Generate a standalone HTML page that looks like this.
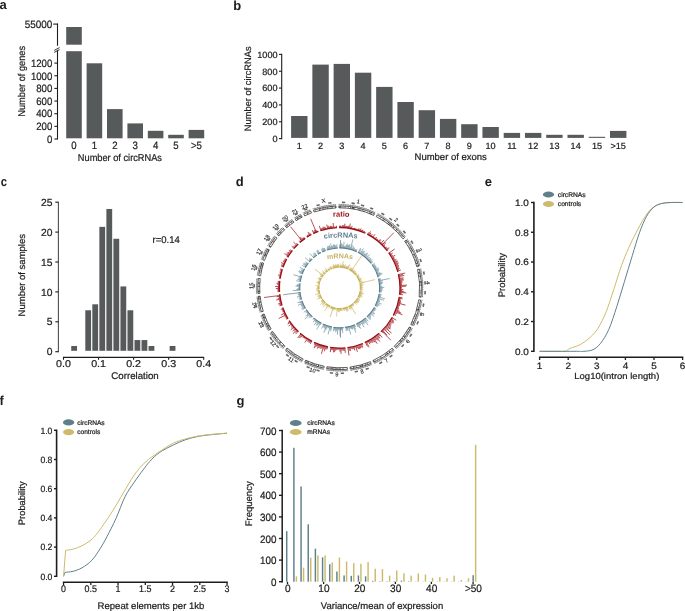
<!DOCTYPE html>
<html><head><meta charset="utf-8"><style>
html,body{margin:0;padding:0;background:#fff;}
body{width:685px;height:611px;overflow:hidden;}
svg{display:block;font-family:"Liberation Sans", sans-serif;will-change:transform;text-rendering:geometricPrecision;}
</style></head><body>
<svg width="685" height="611" viewBox="0 0 685 611">
<text x="-0.40" y="9.30" font-size="13" text-anchor="start" font-weight="bold" fill="#1d1d1b" >a</text>
<text x="233.20" y="9.60" font-size="13" text-anchor="start" font-weight="bold" fill="#1d1d1b" >b</text>
<text transform="translate(0.70,186.40) scale(0.86,1)" font-size="13" text-anchor="start" font-weight="bold" fill="#1d1d1b" >c</text>
<text x="235.80" y="186.30" font-size="13" text-anchor="start" font-weight="bold" fill="#1d1d1b" >d</text>
<text x="484.70" y="186.40" font-size="13" text-anchor="start" font-weight="bold" fill="#1d1d1b" >e</text>
<text x="-0.60" y="404.60" font-size="13" text-anchor="start" font-weight="bold" fill="#1d1d1b" >f</text>
<text x="236.50" y="404.60" font-size="13" text-anchor="start" font-weight="bold" fill="#1d1d1b" >g</text>
<line x1="57.50" y1="23.60" x2="57.50" y2="45.80" stroke="#1d1d1b" stroke-width="1.1" />
<line x1="53.20" y1="24.10" x2="58.05" y2="24.10" stroke="#1d1d1b" stroke-width="1.1" />
<line x1="57.50" y1="50.30" x2="57.50" y2="139.55" stroke="#1d1d1b" stroke-width="1.1" />
<line x1="54.40" y1="139.00" x2="57.50" y2="139.00" stroke="#1d1d1b" stroke-width="1.1" />
<text transform="translate(52.30,142.75) scale(0.9,1)" font-size="10.7" text-anchor="end" font-weight="normal" fill="#1d1d1b"  stroke="#1d1d1b" stroke-width="0.22">0</text>
<line x1="54.40" y1="126.35" x2="57.50" y2="126.35" stroke="#1d1d1b" stroke-width="1.1" />
<text transform="translate(52.30,130.10) scale(0.9,1)" font-size="10.7" text-anchor="end" font-weight="normal" fill="#1d1d1b"  stroke="#1d1d1b" stroke-width="0.22">200</text>
<line x1="54.40" y1="113.70" x2="57.50" y2="113.70" stroke="#1d1d1b" stroke-width="1.1" />
<text transform="translate(52.30,117.45) scale(0.9,1)" font-size="10.7" text-anchor="end" font-weight="normal" fill="#1d1d1b"  stroke="#1d1d1b" stroke-width="0.22">400</text>
<line x1="54.40" y1="101.05" x2="57.50" y2="101.05" stroke="#1d1d1b" stroke-width="1.1" />
<text transform="translate(52.30,104.80) scale(0.9,1)" font-size="10.7" text-anchor="end" font-weight="normal" fill="#1d1d1b"  stroke="#1d1d1b" stroke-width="0.22">600</text>
<line x1="54.40" y1="88.40" x2="57.50" y2="88.40" stroke="#1d1d1b" stroke-width="1.1" />
<text transform="translate(52.30,92.15) scale(0.9,1)" font-size="10.7" text-anchor="end" font-weight="normal" fill="#1d1d1b"  stroke="#1d1d1b" stroke-width="0.22">800</text>
<line x1="54.40" y1="75.75" x2="57.50" y2="75.75" stroke="#1d1d1b" stroke-width="1.1" />
<text transform="translate(52.30,79.50) scale(0.9,1)" font-size="10.7" text-anchor="end" font-weight="normal" fill="#1d1d1b"  stroke="#1d1d1b" stroke-width="0.22">1000</text>
<line x1="54.40" y1="63.10" x2="57.50" y2="63.10" stroke="#1d1d1b" stroke-width="1.1" />
<text transform="translate(52.30,66.85) scale(0.9,1)" font-size="10.7" text-anchor="end" font-weight="normal" fill="#1d1d1b"  stroke="#1d1d1b" stroke-width="0.22">1200</text>
<text transform="translate(52.30,27.85) scale(0.93,1)" font-size="10.7" text-anchor="end" font-weight="normal" fill="#1d1d1b"  stroke="#1d1d1b" stroke-width="0.22">55000</text>
<line x1="54.20" y1="50.40" x2="59.60" y2="47.60" stroke="#1d1d1b" stroke-width="0.9" />
<line x1="54.20" y1="52.40" x2="59.60" y2="49.60" stroke="#1d1d1b" stroke-width="0.9" />
<rect x="66.20" y="51.20" width="15.60" height="87.10" fill="#575a5b"/>
<rect x="86.60" y="63.30" width="15.60" height="75.00" fill="#575a5b"/>
<rect x="107.00" y="109.10" width="15.60" height="29.20" fill="#575a5b"/>
<rect x="127.40" y="123.40" width="15.60" height="14.90" fill="#575a5b"/>
<rect x="147.80" y="130.80" width="15.60" height="7.50" fill="#575a5b"/>
<rect x="168.20" y="134.80" width="15.60" height="3.50" fill="#575a5b"/>
<rect x="188.60" y="129.90" width="15.60" height="8.40" fill="#575a5b"/>
<rect x="66.20" y="27.00" width="15.60" height="17.70" fill="#575a5b"/>
<text transform="translate(74.00,148.60) scale(0.9,1)" font-size="10.7" text-anchor="middle" font-weight="normal" fill="#1d1d1b"  stroke="#1d1d1b" stroke-width="0.22">0</text>
<text transform="translate(94.40,148.60) scale(0.9,1)" font-size="10.7" text-anchor="middle" font-weight="normal" fill="#1d1d1b"  stroke="#1d1d1b" stroke-width="0.22">1</text>
<text transform="translate(114.80,148.60) scale(0.9,1)" font-size="10.7" text-anchor="middle" font-weight="normal" fill="#1d1d1b"  stroke="#1d1d1b" stroke-width="0.22">2</text>
<text transform="translate(135.20,148.60) scale(0.9,1)" font-size="10.7" text-anchor="middle" font-weight="normal" fill="#1d1d1b"  stroke="#1d1d1b" stroke-width="0.22">3</text>
<text transform="translate(155.60,148.60) scale(0.9,1)" font-size="10.7" text-anchor="middle" font-weight="normal" fill="#1d1d1b"  stroke="#1d1d1b" stroke-width="0.22">4</text>
<text transform="translate(176.00,148.60) scale(0.9,1)" font-size="10.7" text-anchor="middle" font-weight="normal" fill="#1d1d1b"  stroke="#1d1d1b" stroke-width="0.22">5</text>
<text transform="translate(196.40,148.60) scale(0.9,1)" font-size="10.7" text-anchor="middle" font-weight="normal" fill="#1d1d1b"  stroke="#1d1d1b" stroke-width="0.22">&gt;5</text>
<text transform="translate(119.90,161.10) scale(0.935,1)" font-size="9.9" text-anchor="middle" font-weight="normal" fill="#1d1d1b"  stroke="#1d1d1b" stroke-width="0.22">Number of circRNAs</text>
<text transform="translate(24.90,81.30) rotate(-90) scale(0.935,1)" font-size="9.9" text-anchor="middle" fill="#1d1d1b" stroke="#1d1d1b" stroke-width="0.22">Number of genes</text>
<line x1="281.70" y1="53.85" x2="281.70" y2="139.15" stroke="#1d1d1b" stroke-width="1.1" />
<line x1="279.00" y1="138.60" x2="281.70" y2="138.60" stroke="#1d1d1b" stroke-width="1.1" />
<text x="277.50" y="141.90" font-size="9.1" text-anchor="end" font-weight="normal" fill="#1d1d1b"  stroke="#1d1d1b" stroke-width="0.22">0</text>
<line x1="279.00" y1="121.76" x2="281.70" y2="121.76" stroke="#1d1d1b" stroke-width="1.1" />
<text x="277.50" y="125.06" font-size="9.1" text-anchor="end" font-weight="normal" fill="#1d1d1b"  stroke="#1d1d1b" stroke-width="0.22">200</text>
<line x1="279.00" y1="104.92" x2="281.70" y2="104.92" stroke="#1d1d1b" stroke-width="1.1" />
<text x="277.50" y="108.22" font-size="9.1" text-anchor="end" font-weight="normal" fill="#1d1d1b"  stroke="#1d1d1b" stroke-width="0.22">400</text>
<line x1="279.00" y1="88.08" x2="281.70" y2="88.08" stroke="#1d1d1b" stroke-width="1.1" />
<text x="277.50" y="91.38" font-size="9.1" text-anchor="end" font-weight="normal" fill="#1d1d1b"  stroke="#1d1d1b" stroke-width="0.22">600</text>
<line x1="279.00" y1="71.24" x2="281.70" y2="71.24" stroke="#1d1d1b" stroke-width="1.1" />
<text x="277.50" y="74.54" font-size="9.1" text-anchor="end" font-weight="normal" fill="#1d1d1b"  stroke="#1d1d1b" stroke-width="0.22">800</text>
<line x1="279.00" y1="54.40" x2="281.70" y2="54.40" stroke="#1d1d1b" stroke-width="1.1" />
<text x="277.50" y="57.70" font-size="9.1" text-anchor="end" font-weight="normal" fill="#1d1d1b"  stroke="#1d1d1b" stroke-width="0.22">1000</text>
<rect x="291.10" y="116.00" width="16.40" height="21.90" fill="#575a5b"/>
<text x="299.30" y="148.50" font-size="9.1" text-anchor="middle" font-weight="normal" fill="#1d1d1b"  stroke="#1d1d1b" stroke-width="0.22">1</text>
<rect x="312.36" y="64.60" width="16.40" height="73.30" fill="#575a5b"/>
<text x="320.56" y="148.50" font-size="9.1" text-anchor="middle" font-weight="normal" fill="#1d1d1b"  stroke="#1d1d1b" stroke-width="0.22">2</text>
<rect x="333.62" y="63.90" width="16.40" height="74.00" fill="#575a5b"/>
<text x="341.82" y="148.50" font-size="9.1" text-anchor="middle" font-weight="normal" fill="#1d1d1b"  stroke="#1d1d1b" stroke-width="0.22">3</text>
<rect x="354.88" y="72.70" width="16.40" height="65.20" fill="#575a5b"/>
<text x="363.08" y="148.50" font-size="9.1" text-anchor="middle" font-weight="normal" fill="#1d1d1b"  stroke="#1d1d1b" stroke-width="0.22">4</text>
<rect x="376.14" y="86.90" width="16.40" height="51.00" fill="#575a5b"/>
<text x="384.34" y="148.50" font-size="9.1" text-anchor="middle" font-weight="normal" fill="#1d1d1b"  stroke="#1d1d1b" stroke-width="0.22">5</text>
<rect x="397.40" y="102.00" width="16.40" height="35.90" fill="#575a5b"/>
<text x="405.60" y="148.50" font-size="9.1" text-anchor="middle" font-weight="normal" fill="#1d1d1b"  stroke="#1d1d1b" stroke-width="0.22">6</text>
<rect x="418.66" y="110.20" width="16.40" height="27.70" fill="#575a5b"/>
<text x="426.86" y="148.50" font-size="9.1" text-anchor="middle" font-weight="normal" fill="#1d1d1b"  stroke="#1d1d1b" stroke-width="0.22">7</text>
<rect x="439.92" y="118.90" width="16.40" height="19.00" fill="#575a5b"/>
<text x="448.12" y="148.50" font-size="9.1" text-anchor="middle" font-weight="normal" fill="#1d1d1b"  stroke="#1d1d1b" stroke-width="0.22">8</text>
<rect x="461.18" y="124.20" width="16.40" height="13.70" fill="#575a5b"/>
<text x="469.38" y="148.50" font-size="9.1" text-anchor="middle" font-weight="normal" fill="#1d1d1b"  stroke="#1d1d1b" stroke-width="0.22">9</text>
<rect x="482.44" y="127.00" width="16.40" height="10.90" fill="#575a5b"/>
<text x="490.64" y="148.50" font-size="9.1" text-anchor="middle" font-weight="normal" fill="#1d1d1b"  stroke="#1d1d1b" stroke-width="0.22">10</text>
<rect x="503.70" y="132.90" width="16.40" height="5.00" fill="#575a5b"/>
<text x="511.90" y="148.50" font-size="9.1" text-anchor="middle" font-weight="normal" fill="#1d1d1b"  stroke="#1d1d1b" stroke-width="0.22">11</text>
<rect x="524.96" y="132.90" width="16.40" height="5.00" fill="#575a5b"/>
<text x="533.16" y="148.50" font-size="9.1" text-anchor="middle" font-weight="normal" fill="#1d1d1b"  stroke="#1d1d1b" stroke-width="0.22">12</text>
<rect x="546.22" y="134.80" width="16.40" height="3.10" fill="#575a5b"/>
<text x="554.42" y="148.50" font-size="9.1" text-anchor="middle" font-weight="normal" fill="#1d1d1b"  stroke="#1d1d1b" stroke-width="0.22">13</text>
<rect x="567.48" y="134.80" width="16.40" height="3.10" fill="#575a5b"/>
<text x="575.68" y="148.50" font-size="9.1" text-anchor="middle" font-weight="normal" fill="#1d1d1b"  stroke="#1d1d1b" stroke-width="0.22">14</text>
<rect x="588.74" y="136.80" width="16.40" height="1.10" fill="#575a5b"/>
<text x="596.94" y="148.50" font-size="9.1" text-anchor="middle" font-weight="normal" fill="#1d1d1b"  stroke="#1d1d1b" stroke-width="0.22">15</text>
<rect x="610.00" y="130.90" width="16.40" height="7.00" fill="#575a5b"/>
<text x="618.20" y="148.50" font-size="9.1" text-anchor="middle" font-weight="normal" fill="#1d1d1b"  stroke="#1d1d1b" stroke-width="0.22">&gt;15</text>
<text x="450.70" y="159.90" font-size="9.5" text-anchor="middle" font-weight="normal" fill="#1d1d1b"  stroke="#1d1d1b" stroke-width="0.22">Number of exons</text>
<text transform="translate(251.30,88.80) rotate(-90) scale(1.0,1)" font-size="9.3" text-anchor="middle" fill="#1d1d1b" stroke="#1d1d1b" stroke-width="0.22">Number of circRNAs</text>
<line x1="58.40" y1="201.80" x2="58.40" y2="352.20" stroke="#4d4d4f" stroke-width="1.1" />
<line x1="55.30" y1="351.70" x2="58.40" y2="351.70" stroke="#1d1d1b" stroke-width="1.1" />
<text x="52.40" y="355.30" font-size="10.3" text-anchor="end" font-weight="normal" fill="#1d1d1b"  stroke="#1d1d1b" stroke-width="0.22">0</text>
<line x1="55.30" y1="321.80" x2="58.40" y2="321.80" stroke="#1d1d1b" stroke-width="1.1" />
<text x="52.40" y="325.40" font-size="10.3" text-anchor="end" font-weight="normal" fill="#1d1d1b"  stroke="#1d1d1b" stroke-width="0.22">5</text>
<line x1="55.30" y1="291.90" x2="58.40" y2="291.90" stroke="#1d1d1b" stroke-width="1.1" />
<text x="52.40" y="295.50" font-size="10.3" text-anchor="end" font-weight="normal" fill="#1d1d1b"  stroke="#1d1d1b" stroke-width="0.22">10</text>
<line x1="55.30" y1="262.00" x2="58.40" y2="262.00" stroke="#1d1d1b" stroke-width="1.1" />
<text x="52.40" y="265.60" font-size="10.3" text-anchor="end" font-weight="normal" fill="#1d1d1b"  stroke="#1d1d1b" stroke-width="0.22">15</text>
<line x1="55.30" y1="232.10" x2="58.40" y2="232.10" stroke="#1d1d1b" stroke-width="1.1" />
<text x="52.40" y="235.70" font-size="10.3" text-anchor="end" font-weight="normal" fill="#1d1d1b"  stroke="#1d1d1b" stroke-width="0.22">20</text>
<line x1="55.30" y1="202.20" x2="58.40" y2="202.20" stroke="#1d1d1b" stroke-width="1.1" />
<text x="52.40" y="205.80" font-size="10.3" text-anchor="end" font-weight="normal" fill="#1d1d1b"  stroke="#1d1d1b" stroke-width="0.22">25</text>
<line x1="63.10" y1="357.40" x2="203.90" y2="357.40" stroke="#1d1d1b" stroke-width="1.1" />
<line x1="63.50" y1="356.90" x2="63.50" y2="359.80" stroke="#1d1d1b" stroke-width="1.1" />
<text transform="translate(63.50,367.30) scale(1.08,1)" font-size="9.9" text-anchor="middle" font-weight="normal" fill="#1d1d1b"  stroke="#1d1d1b" stroke-width="0.22">0.0</text>
<line x1="98.55" y1="356.90" x2="98.55" y2="359.80" stroke="#1d1d1b" stroke-width="1.1" />
<text transform="translate(98.55,367.30) scale(1.08,1)" font-size="9.9" text-anchor="middle" font-weight="normal" fill="#1d1d1b"  stroke="#1d1d1b" stroke-width="0.22">0.1</text>
<line x1="133.60" y1="356.90" x2="133.60" y2="359.80" stroke="#1d1d1b" stroke-width="1.1" />
<text transform="translate(133.60,367.30) scale(1.08,1)" font-size="9.9" text-anchor="middle" font-weight="normal" fill="#1d1d1b"  stroke="#1d1d1b" stroke-width="0.22">0.2</text>
<line x1="168.65" y1="356.90" x2="168.65" y2="359.80" stroke="#1d1d1b" stroke-width="1.1" />
<text transform="translate(168.65,367.30) scale(1.08,1)" font-size="9.9" text-anchor="middle" font-weight="normal" fill="#1d1d1b"  stroke="#1d1d1b" stroke-width="0.22">0.3</text>
<line x1="203.70" y1="356.90" x2="203.70" y2="359.80" stroke="#1d1d1b" stroke-width="1.1" />
<text transform="translate(203.70,367.30) scale(1.08,1)" font-size="9.9" text-anchor="middle" font-weight="normal" fill="#1d1d1b"  stroke="#1d1d1b" stroke-width="0.22">0.4</text>
<text x="135.00" y="379.00" font-size="9.7" text-anchor="middle" font-weight="normal" fill="#1d1d1b"  stroke="#1d1d1b" stroke-width="0.22">Correlation</text>
<text transform="translate(25.30,275.20) rotate(-90) scale(1.0,1)" font-size="9.5" text-anchor="middle" fill="#1d1d1b" stroke="#1d1d1b" stroke-width="0.22">Number of samples</text>
<text transform="translate(152.60,242.90) scale(0.97,1)" font-size="9.8" text-anchor="start" font-weight="normal" fill="#1d1d1b"  stroke="#1d1d1b" stroke-width="0.22">r=0.14</text>
<rect x="71.23" y="346.00" width="5.80" height="4.80" fill="#575a5b"/>
<rect x="85.29" y="310.26" width="5.80" height="40.54" fill="#575a5b"/>
<rect x="92.32" y="304.30" width="5.80" height="46.50" fill="#575a5b"/>
<rect x="99.35" y="226.86" width="5.80" height="123.94" fill="#575a5b"/>
<rect x="106.38" y="208.99" width="5.80" height="141.81" fill="#575a5b"/>
<rect x="113.41" y="238.78" width="5.80" height="112.02" fill="#575a5b"/>
<rect x="120.44" y="286.43" width="5.80" height="64.37" fill="#575a5b"/>
<rect x="127.47" y="310.26" width="5.80" height="40.54" fill="#575a5b"/>
<rect x="134.50" y="340.05" width="5.80" height="10.75" fill="#575a5b"/>
<rect x="141.53" y="340.05" width="5.80" height="10.75" fill="#575a5b"/>
<rect x="148.56" y="346.00" width="5.80" height="4.80" fill="#575a5b"/>
<rect x="169.65" y="346.00" width="5.80" height="4.80" fill="#575a5b"/>
<line x1="533.90" y1="201.80" x2="533.90" y2="352.00" stroke="#1d1d1b" stroke-width="1.6" />
<line x1="531.00" y1="351.30" x2="533.90" y2="351.30" stroke="#1d1d1b" stroke-width="1.4" />
<text transform="translate(528.90,354.60) scale(1.07,1)" font-size="9.3" text-anchor="end" font-weight="normal" fill="#1d1d1b"  stroke="#1d1d1b" stroke-width="0.22">0.0</text>
<line x1="531.00" y1="321.54" x2="533.90" y2="321.54" stroke="#1d1d1b" stroke-width="1.4" />
<text transform="translate(528.90,324.84) scale(1.07,1)" font-size="9.3" text-anchor="end" font-weight="normal" fill="#1d1d1b"  stroke="#1d1d1b" stroke-width="0.22">0.2</text>
<line x1="531.00" y1="291.78" x2="533.90" y2="291.78" stroke="#1d1d1b" stroke-width="1.4" />
<text transform="translate(528.90,295.08) scale(1.07,1)" font-size="9.3" text-anchor="end" font-weight="normal" fill="#1d1d1b"  stroke="#1d1d1b" stroke-width="0.22">0.4</text>
<line x1="531.00" y1="262.02" x2="533.90" y2="262.02" stroke="#1d1d1b" stroke-width="1.4" />
<text transform="translate(528.90,265.32) scale(1.07,1)" font-size="9.3" text-anchor="end" font-weight="normal" fill="#1d1d1b"  stroke="#1d1d1b" stroke-width="0.22">0.6</text>
<line x1="531.00" y1="232.26" x2="533.90" y2="232.26" stroke="#1d1d1b" stroke-width="1.4" />
<text transform="translate(528.90,235.56) scale(1.07,1)" font-size="9.3" text-anchor="end" font-weight="normal" fill="#1d1d1b"  stroke="#1d1d1b" stroke-width="0.22">0.8</text>
<line x1="531.00" y1="202.50" x2="533.90" y2="202.50" stroke="#1d1d1b" stroke-width="1.4" />
<text transform="translate(528.90,205.80) scale(1.07,1)" font-size="9.3" text-anchor="end" font-weight="normal" fill="#1d1d1b"  stroke="#1d1d1b" stroke-width="0.22">1.0</text>
<line x1="538.90" y1="357.30" x2="683.30" y2="357.30" stroke="#1d1d1b" stroke-width="1.5" />
<line x1="539.60" y1="357.30" x2="539.60" y2="360.00" stroke="#1d1d1b" stroke-width="1.3" />
<text transform="translate(539.60,368.60) scale(1.07,1)" font-size="9.3" text-anchor="middle" font-weight="normal" fill="#1d1d1b"  stroke="#1d1d1b" stroke-width="0.22">1</text>
<line x1="568.20" y1="357.30" x2="568.20" y2="360.00" stroke="#1d1d1b" stroke-width="1.3" />
<text transform="translate(568.20,368.60) scale(1.07,1)" font-size="9.3" text-anchor="middle" font-weight="normal" fill="#1d1d1b"  stroke="#1d1d1b" stroke-width="0.22">2</text>
<line x1="596.80" y1="357.30" x2="596.80" y2="360.00" stroke="#1d1d1b" stroke-width="1.3" />
<text transform="translate(596.80,368.60) scale(1.07,1)" font-size="9.3" text-anchor="middle" font-weight="normal" fill="#1d1d1b"  stroke="#1d1d1b" stroke-width="0.22">3</text>
<line x1="625.40" y1="357.30" x2="625.40" y2="360.00" stroke="#1d1d1b" stroke-width="1.3" />
<text transform="translate(625.40,368.60) scale(1.07,1)" font-size="9.3" text-anchor="middle" font-weight="normal" fill="#1d1d1b"  stroke="#1d1d1b" stroke-width="0.22">4</text>
<line x1="654.00" y1="357.30" x2="654.00" y2="360.00" stroke="#1d1d1b" stroke-width="1.3" />
<text transform="translate(654.00,368.60) scale(1.07,1)" font-size="9.3" text-anchor="middle" font-weight="normal" fill="#1d1d1b"  stroke="#1d1d1b" stroke-width="0.22">5</text>
<line x1="682.60" y1="357.30" x2="682.60" y2="360.00" stroke="#1d1d1b" stroke-width="1.3" />
<text transform="translate(682.60,368.60) scale(1.07,1)" font-size="9.3" text-anchor="middle" font-weight="normal" fill="#1d1d1b"  stroke="#1d1d1b" stroke-width="0.22">6</text>
<text transform="translate(616.80,378.80) scale(1.08,1)" font-size="8.8" text-anchor="middle" font-weight="normal" fill="#1d1d1b"  stroke="#1d1d1b" stroke-width="0.22">Log10(intron length)</text>
<text transform="translate(504.70,275.20) rotate(-90) scale(1.0,1)" font-size="9.5" text-anchor="middle" fill="#1d1d1b" stroke="#1d1d1b" stroke-width="0.22">Probability</text>
<ellipse cx="548.50" cy="194.50" rx="5.6" ry="3.0" fill="#5f808b"/>
<ellipse cx="548.50" cy="204.00" rx="5.6" ry="3.0" fill="#cdbb6b"/>
<text x="557.80" y="196.80" font-size="6.7" text-anchor="start" font-weight="normal" fill="#1d1d1b"  stroke="#1d1d1b" stroke-width="0.22">circRNAs</text>
<text x="557.80" y="206.30" font-size="6.7" text-anchor="start" font-weight="normal" fill="#1d1d1b"  stroke="#1d1d1b" stroke-width="0.22">controls</text>
<path d="M539.60,351.30 C542.46,351.30 552.52,351.30 556.76,351.30 C561.00,351.30 562.81,351.80 565.05,351.30 C567.29,350.80 567.68,349.44 570.20,348.32 C572.73,347.21 576.83,346.49 580.21,344.60 C583.60,342.72 587.53,339.77 590.51,337.02 C593.49,334.26 595.47,332.33 598.09,328.09 C600.71,323.85 603.59,318.12 606.24,311.57 C608.88,305.02 611.43,296.42 613.96,288.80 C616.49,281.19 618.97,272.66 621.40,265.89 C623.83,259.12 626.12,253.69 628.55,248.18 C630.98,242.68 633.46,237.74 635.98,232.86 C638.51,227.97 641.13,222.89 643.70,218.87 C646.28,214.85 648.47,211.30 651.43,208.75 C654.38,206.20 658.05,204.58 661.44,203.54 C664.82,202.50 668.20,202.67 671.73,202.50 C675.26,202.33 680.79,202.50 682.60,202.50" fill="none" stroke="#cdbb6b" stroke-width="1.0" stroke-linejoin="round"/>
<path d="M539.60,351.30 C545.32,351.30 566.53,351.30 573.92,351.30 C581.31,351.30 580.75,351.57 583.93,351.30 C587.11,351.03 590.22,351.00 593.00,349.66 C595.78,348.32 597.97,346.64 600.60,343.26 C603.24,339.89 606.11,335.55 608.81,329.43 C611.51,323.30 614.20,314.55 616.82,306.51 C619.44,298.48 621.97,289.67 624.54,281.22 C627.12,272.76 629.79,263.83 632.26,255.77 C634.74,247.71 637.03,239.43 639.41,232.86 C641.80,226.28 644.13,220.65 646.56,216.34 C649.00,212.02 651.51,209.10 654.00,206.96 C656.49,204.83 658.63,204.29 661.49,203.54 C664.35,202.80 667.64,202.67 671.16,202.50 C674.68,202.33 680.69,202.50 682.60,202.50" fill="none" stroke="#5f808b" stroke-width="1.0" stroke-linejoin="round"/>
<line x1="56.60" y1="429.60" x2="56.60" y2="577.00" stroke="#1d1d1b" stroke-width="1.6" />
<line x1="54.00" y1="576.30" x2="56.60" y2="576.30" stroke="#1d1d1b" stroke-width="1.4" />
<text transform="translate(52.40,579.50) scale(0.95,1)" font-size="9.1" text-anchor="end" font-weight="normal" fill="#1d1d1b"  stroke="#1d1d1b" stroke-width="0.22">0.0</text>
<line x1="54.00" y1="547.10" x2="56.60" y2="547.10" stroke="#1d1d1b" stroke-width="1.4" />
<text transform="translate(52.40,550.30) scale(0.95,1)" font-size="9.1" text-anchor="end" font-weight="normal" fill="#1d1d1b"  stroke="#1d1d1b" stroke-width="0.22">0.2</text>
<line x1="54.00" y1="517.90" x2="56.60" y2="517.90" stroke="#1d1d1b" stroke-width="1.4" />
<text transform="translate(52.40,521.10) scale(0.95,1)" font-size="9.1" text-anchor="end" font-weight="normal" fill="#1d1d1b"  stroke="#1d1d1b" stroke-width="0.22">0.4</text>
<line x1="54.00" y1="488.70" x2="56.60" y2="488.70" stroke="#1d1d1b" stroke-width="1.4" />
<text transform="translate(52.40,491.90) scale(0.95,1)" font-size="9.1" text-anchor="end" font-weight="normal" fill="#1d1d1b"  stroke="#1d1d1b" stroke-width="0.22">0.6</text>
<line x1="54.00" y1="459.50" x2="56.60" y2="459.50" stroke="#1d1d1b" stroke-width="1.4" />
<text transform="translate(52.40,462.70) scale(0.95,1)" font-size="9.1" text-anchor="end" font-weight="normal" fill="#1d1d1b"  stroke="#1d1d1b" stroke-width="0.22">0.8</text>
<line x1="54.00" y1="430.30" x2="56.60" y2="430.30" stroke="#1d1d1b" stroke-width="1.4" />
<text transform="translate(52.40,433.50) scale(0.95,1)" font-size="9.1" text-anchor="end" font-weight="normal" fill="#1d1d1b"  stroke="#1d1d1b" stroke-width="0.22">1.0</text>
<line x1="62.85" y1="582.30" x2="227.75" y2="582.30" stroke="#1d1d1b" stroke-width="1.5" />
<line x1="63.55" y1="582.30" x2="63.55" y2="585.00" stroke="#1d1d1b" stroke-width="1.3" />
<text transform="translate(63.55,592.30) scale(0.93,1)" font-size="9.6" text-anchor="middle" font-weight="normal" fill="#1d1d1b"  stroke="#1d1d1b" stroke-width="0.22">0</text>
<line x1="90.80" y1="582.30" x2="90.80" y2="585.00" stroke="#1d1d1b" stroke-width="1.3" />
<text transform="translate(90.80,592.30) scale(0.93,1)" font-size="9.6" text-anchor="middle" font-weight="normal" fill="#1d1d1b"  stroke="#1d1d1b" stroke-width="0.22">0.5</text>
<line x1="118.05" y1="582.30" x2="118.05" y2="585.00" stroke="#1d1d1b" stroke-width="1.3" />
<text transform="translate(118.05,592.30) scale(0.93,1)" font-size="9.6" text-anchor="middle" font-weight="normal" fill="#1d1d1b"  stroke="#1d1d1b" stroke-width="0.22">1</text>
<line x1="145.30" y1="582.30" x2="145.30" y2="585.00" stroke="#1d1d1b" stroke-width="1.3" />
<text transform="translate(145.30,592.30) scale(0.93,1)" font-size="9.6" text-anchor="middle" font-weight="normal" fill="#1d1d1b"  stroke="#1d1d1b" stroke-width="0.22">1.5</text>
<line x1="172.55" y1="582.30" x2="172.55" y2="585.00" stroke="#1d1d1b" stroke-width="1.3" />
<text transform="translate(172.55,592.30) scale(0.93,1)" font-size="9.6" text-anchor="middle" font-weight="normal" fill="#1d1d1b"  stroke="#1d1d1b" stroke-width="0.22">2</text>
<line x1="199.80" y1="582.30" x2="199.80" y2="585.00" stroke="#1d1d1b" stroke-width="1.3" />
<text transform="translate(199.80,592.30) scale(0.93,1)" font-size="9.6" text-anchor="middle" font-weight="normal" fill="#1d1d1b"  stroke="#1d1d1b" stroke-width="0.22">2.5</text>
<line x1="227.05" y1="582.30" x2="227.05" y2="585.00" stroke="#1d1d1b" stroke-width="1.3" />
<text transform="translate(227.05,592.30) scale(0.93,1)" font-size="9.6" text-anchor="middle" font-weight="normal" fill="#1d1d1b"  stroke="#1d1d1b" stroke-width="0.22">3</text>
<text transform="translate(151.00,608.90) scale(1.02,1)" font-size="9.4" text-anchor="middle" font-weight="normal" fill="#1d1d1b"  stroke="#1d1d1b" stroke-width="0.22">Repeat elements per 1kb</text>
<text transform="translate(25.20,503.30) rotate(-90) scale(1.0,1)" font-size="9.4" text-anchor="middle" fill="#1d1d1b" stroke="#1d1d1b" stroke-width="0.22">Probability</text>
<ellipse cx="68.60" cy="422.40" rx="5.6" ry="3.1" fill="#5f808b"/>
<ellipse cx="68.60" cy="432.10" rx="5.6" ry="3.1" fill="#cdbb6b"/>
<text x="77.20" y="424.70" font-size="6.6" text-anchor="start" font-weight="normal" fill="#1d1d1b"  stroke="#1d1d1b" stroke-width="0.22">circRNAs</text>
<text x="77.20" y="434.40" font-size="6.6" text-anchor="start" font-weight="normal" fill="#1d1d1b"  stroke="#1d1d1b" stroke-width="0.22">controls</text>
<polyline points="63.55,576.30 64.91,572.36" fill="none" stroke="#5f808b" stroke-width="1"/>
<path d="M64.91,572.36 C66.26,572.19 70.13,572.09 72.98,571.34 C75.83,570.58 78.87,569.68 82.03,567.83 C85.18,565.98 88.89,563.40 91.89,560.24 C94.89,557.08 97.49,552.79 100.01,548.85 C102.53,544.91 104.33,541.65 106.99,536.59 C109.65,531.53 112.97,525.13 115.98,518.48 C118.99,511.84 122.01,502.74 125.03,496.73 C128.04,490.72 131.06,486.90 134.07,482.42 C137.09,477.94 140.47,473.39 143.12,469.87 C145.77,466.34 147.29,464.12 149.99,461.25 C152.68,458.38 155.40,455.36 159.31,452.64 C163.21,449.91 169.14,447.02 173.42,444.90 C177.70,442.78 181.10,441.30 184.98,439.94 C188.85,438.57 192.79,437.55 196.69,436.72 C200.60,435.90 203.35,435.56 208.41,434.97 C213.47,434.39 223.94,433.51 227.05,433.22" fill="none" stroke="#5f808b" stroke-width="1.0" stroke-linejoin="round"/>
<polyline points="63.55,576.30 65.62,550.31" fill="none" stroke="#cdbb6b" stroke-width="1"/>
<path d="M65.62,550.31 C66.85,550.12 70.24,549.90 72.98,549.14 C75.71,548.39 79.02,547.32 82.03,545.79 C85.03,544.25 88.28,542.28 91.02,539.95 C93.75,537.61 94.87,536.54 98.43,531.77 C101.99,527.00 108.26,517.75 112.38,511.33 C116.51,504.91 119.56,499.24 123.17,493.23 C126.79,487.22 130.45,480.38 134.07,475.27 C137.70,470.16 140.71,466.48 144.92,462.57 C149.12,458.65 154.56,455.00 159.31,451.76 C164.06,448.53 169.14,445.26 173.42,443.15 C177.70,441.03 181.10,440.20 184.98,439.06 C188.85,437.92 192.79,437.02 196.69,436.29 C200.60,435.56 203.35,435.22 208.41,434.68 C213.47,434.14 223.94,433.34 227.05,433.07" fill="none" stroke="#cdbb6b" stroke-width="1.0" stroke-linejoin="round"/>
<line x1="282.20" y1="429.80" x2="282.20" y2="582.40" stroke="#1d1d1b" stroke-width="1.5" />
<line x1="279.00" y1="581.70" x2="282.20" y2="581.70" stroke="#1d1d1b" stroke-width="1.35" />
<text transform="translate(276.50,585.80) scale(0.93,1)" font-size="10.6" text-anchor="end" font-weight="normal" fill="#1d1d1b"  stroke="#1d1d1b" stroke-width="0.22">0</text>
<line x1="279.00" y1="560.10" x2="282.20" y2="560.10" stroke="#1d1d1b" stroke-width="1.35" />
<text transform="translate(276.50,564.20) scale(0.93,1)" font-size="10.6" text-anchor="end" font-weight="normal" fill="#1d1d1b"  stroke="#1d1d1b" stroke-width="0.22">100</text>
<line x1="279.00" y1="538.50" x2="282.20" y2="538.50" stroke="#1d1d1b" stroke-width="1.35" />
<text transform="translate(276.50,542.60) scale(0.93,1)" font-size="10.6" text-anchor="end" font-weight="normal" fill="#1d1d1b"  stroke="#1d1d1b" stroke-width="0.22">200</text>
<line x1="279.00" y1="516.90" x2="282.20" y2="516.90" stroke="#1d1d1b" stroke-width="1.35" />
<text transform="translate(276.50,521.00) scale(0.93,1)" font-size="10.6" text-anchor="end" font-weight="normal" fill="#1d1d1b"  stroke="#1d1d1b" stroke-width="0.22">300</text>
<line x1="279.00" y1="495.30" x2="282.20" y2="495.30" stroke="#1d1d1b" stroke-width="1.35" />
<text transform="translate(276.50,499.40) scale(0.93,1)" font-size="10.6" text-anchor="end" font-weight="normal" fill="#1d1d1b"  stroke="#1d1d1b" stroke-width="0.22">400</text>
<line x1="279.00" y1="473.70" x2="282.20" y2="473.70" stroke="#1d1d1b" stroke-width="1.35" />
<text transform="translate(276.50,477.80) scale(0.93,1)" font-size="10.6" text-anchor="end" font-weight="normal" fill="#1d1d1b"  stroke="#1d1d1b" stroke-width="0.22">500</text>
<line x1="279.00" y1="452.10" x2="282.20" y2="452.10" stroke="#1d1d1b" stroke-width="1.35" />
<text transform="translate(276.50,456.20) scale(0.93,1)" font-size="10.6" text-anchor="end" font-weight="normal" fill="#1d1d1b"  stroke="#1d1d1b" stroke-width="0.22">600</text>
<line x1="279.00" y1="430.50" x2="282.20" y2="430.50" stroke="#1d1d1b" stroke-width="1.35" />
<text transform="translate(276.50,434.60) scale(0.93,1)" font-size="10.6" text-anchor="end" font-weight="normal" fill="#1d1d1b"  stroke="#1d1d1b" stroke-width="0.22">700</text>
<line x1="287.50" y1="581.80" x2="287.50" y2="584.00" stroke="#1d1d1b" stroke-width="1.3" />
<text transform="translate(287.80,592.00) scale(0.94,1)" font-size="10.7" text-anchor="middle" font-weight="normal" fill="#1d1d1b"  stroke="#1d1d1b" stroke-width="0.22">0</text>
<line x1="323.60" y1="581.80" x2="323.60" y2="584.00" stroke="#1d1d1b" stroke-width="1.3" />
<text transform="translate(323.90,592.00) scale(0.94,1)" font-size="10.7" text-anchor="middle" font-weight="normal" fill="#1d1d1b"  stroke="#1d1d1b" stroke-width="0.22">10</text>
<line x1="359.50" y1="581.80" x2="359.50" y2="584.00" stroke="#1d1d1b" stroke-width="1.3" />
<text transform="translate(359.80,592.00) scale(0.94,1)" font-size="10.7" text-anchor="middle" font-weight="normal" fill="#1d1d1b"  stroke="#1d1d1b" stroke-width="0.22">20</text>
<line x1="395.40" y1="581.80" x2="395.40" y2="584.00" stroke="#1d1d1b" stroke-width="1.3" />
<text transform="translate(395.70,592.00) scale(0.94,1)" font-size="10.7" text-anchor="middle" font-weight="normal" fill="#1d1d1b"  stroke="#1d1d1b" stroke-width="0.22">30</text>
<line x1="431.40" y1="581.80" x2="431.40" y2="584.00" stroke="#1d1d1b" stroke-width="1.3" />
<text transform="translate(431.70,592.00) scale(0.94,1)" font-size="10.7" text-anchor="middle" font-weight="normal" fill="#1d1d1b"  stroke="#1d1d1b" stroke-width="0.22">40</text>
<line x1="473.10" y1="581.80" x2="473.10" y2="584.00" stroke="#1d1d1b" stroke-width="1.3" />
<text transform="translate(473.40,592.00) scale(0.94,1)" font-size="10.7" text-anchor="middle" font-weight="normal" fill="#1d1d1b"  stroke="#1d1d1b" stroke-width="0.22">&gt;50</text>
<text x="382.00" y="609.00" font-size="9.5" text-anchor="middle" font-weight="normal" fill="#1d1d1b"  stroke="#1d1d1b" stroke-width="0.22">Variance/mean of expression</text>
<text transform="translate(252.00,503.80) rotate(-90) scale(1.0,1)" font-size="9.5" text-anchor="middle" fill="#1d1d1b" stroke="#1d1d1b" stroke-width="0.22">Frequency</text>
<ellipse cx="295.70" cy="423.00" rx="5.9" ry="3.0" fill="#5f808b"/>
<ellipse cx="295.70" cy="432.00" rx="5.9" ry="3.0" fill="#cdbb6b"/>
<text x="307.30" y="425.30" font-size="6.6" text-anchor="start" font-weight="normal" fill="#1d1d1b"  stroke="#1d1d1b" stroke-width="0.22">circRNAs</text>
<text x="307.30" y="434.30" font-size="6.6" text-anchor="start" font-weight="normal" fill="#1d1d1b"  stroke="#1d1d1b" stroke-width="0.22">mRNAs</text>
<rect x="286.00" y="531.16" width="1.45" height="50.54" fill="#5f808b"/>
<rect x="293.17" y="447.78" width="1.45" height="133.92" fill="#5f808b"/>
<rect x="295.67" y="576.30" width="1.45" height="5.40" fill="#cdbb6b"/>
<rect x="300.34" y="486.44" width="1.45" height="95.26" fill="#5f808b"/>
<rect x="302.84" y="567.66" width="1.45" height="14.04" fill="#cdbb6b"/>
<rect x="307.51" y="524.24" width="1.45" height="57.46" fill="#5f808b"/>
<rect x="310.01" y="557.72" width="1.45" height="23.98" fill="#cdbb6b"/>
<rect x="314.68" y="548.65" width="1.45" height="33.05" fill="#5f808b"/>
<rect x="317.18" y="555.35" width="1.45" height="26.35" fill="#cdbb6b"/>
<rect x="321.85" y="557.29" width="1.45" height="24.41" fill="#5f808b"/>
<rect x="324.35" y="555.35" width="1.45" height="26.35" fill="#cdbb6b"/>
<rect x="329.02" y="564.20" width="1.45" height="17.50" fill="#5f808b"/>
<rect x="331.52" y="562.48" width="1.45" height="19.22" fill="#cdbb6b"/>
<rect x="336.19" y="571.55" width="1.45" height="10.15" fill="#5f808b"/>
<rect x="338.69" y="557.51" width="1.45" height="24.19" fill="#cdbb6b"/>
<rect x="343.36" y="575.44" width="1.45" height="6.26" fill="#5f808b"/>
<rect x="345.86" y="561.40" width="1.45" height="20.30" fill="#cdbb6b"/>
<rect x="350.53" y="575.87" width="1.45" height="5.83" fill="#5f808b"/>
<rect x="353.03" y="563.12" width="1.45" height="18.58" fill="#cdbb6b"/>
<rect x="357.70" y="575.44" width="1.45" height="6.26" fill="#5f808b"/>
<rect x="360.20" y="563.77" width="1.45" height="17.93" fill="#cdbb6b"/>
<rect x="364.87" y="576.30" width="1.45" height="5.40" fill="#5f808b"/>
<rect x="367.37" y="562.04" width="1.45" height="19.66" fill="#cdbb6b"/>
<rect x="372.04" y="580.84" width="1.45" height="0.86" fill="#5f808b"/>
<rect x="374.54" y="568.74" width="1.45" height="12.96" fill="#cdbb6b"/>
<rect x="379.21" y="581.27" width="1.45" height="0.43" fill="#5f808b"/>
<rect x="381.71" y="569.17" width="1.45" height="12.53" fill="#cdbb6b"/>
<rect x="386.38" y="581.27" width="1.45" height="0.43" fill="#5f808b"/>
<rect x="388.88" y="575.65" width="1.45" height="6.05" fill="#cdbb6b"/>
<rect x="393.55" y="581.27" width="1.45" height="0.43" fill="#5f808b"/>
<rect x="396.05" y="570.47" width="1.45" height="11.23" fill="#cdbb6b"/>
<rect x="400.72" y="580.62" width="1.45" height="1.08" fill="#5f808b"/>
<rect x="403.22" y="573.28" width="1.45" height="8.42" fill="#cdbb6b"/>
<rect x="407.89" y="581.27" width="1.45" height="0.43" fill="#5f808b"/>
<rect x="410.39" y="575.65" width="1.45" height="6.05" fill="#cdbb6b"/>
<rect x="415.06" y="581.48" width="1.45" height="0.22" fill="#5f808b"/>
<rect x="417.56" y="573.49" width="1.45" height="8.21" fill="#cdbb6b"/>
<rect x="422.23" y="581.48" width="1.45" height="0.22" fill="#5f808b"/>
<rect x="424.73" y="574.57" width="1.45" height="7.13" fill="#cdbb6b"/>
<rect x="429.40" y="581.48" width="1.45" height="0.22" fill="#5f808b"/>
<rect x="431.90" y="577.81" width="1.45" height="3.89" fill="#cdbb6b"/>
<rect x="436.57" y="581.48" width="1.45" height="0.22" fill="#5f808b"/>
<rect x="439.07" y="576.95" width="1.45" height="4.75" fill="#cdbb6b"/>
<rect x="443.74" y="581.48" width="1.45" height="0.22" fill="#5f808b"/>
<rect x="446.24" y="578.24" width="1.45" height="3.46" fill="#cdbb6b"/>
<rect x="450.91" y="581.48" width="1.45" height="0.22" fill="#5f808b"/>
<rect x="453.41" y="575.65" width="1.45" height="6.05" fill="#cdbb6b"/>
<rect x="458.08" y="581.48" width="1.45" height="0.22" fill="#5f808b"/>
<rect x="460.58" y="579.97" width="1.45" height="1.73" fill="#cdbb6b"/>
<rect x="465.25" y="581.48" width="1.45" height="0.22" fill="#5f808b"/>
<rect x="467.75" y="578.24" width="1.45" height="3.46" fill="#cdbb6b"/>
<rect x="472.42" y="575.22" width="1.45" height="6.48" fill="#5f808b"/>
<rect x="474.92" y="444.76" width="1.45" height="136.94" fill="#cdbb6b"/>
<text transform="translate(358.32,202.30) rotate(12.3)" font-size="5.6" text-anchor="middle" dominant-baseline="central" fill="#1d1d1b" stroke="#1d1d1b" stroke-width="0.12">1</text>
<text transform="translate(395.66,220.53) rotate(39.8)" font-size="5.6" text-anchor="middle" dominant-baseline="central" fill="#1d1d1b" stroke="#1d1d1b" stroke-width="0.12">2</text>
<text transform="translate(418.72,250.23) rotate(64.6)" font-size="5.6" text-anchor="middle" dominant-baseline="central" fill="#1d1d1b" stroke="#1d1d1b" stroke-width="0.12">3</text>
<text transform="translate(427.05,282.75) rotate(86.7)" font-size="5.6" text-anchor="middle" dominant-baseline="central" fill="#1d1d1b" stroke="#1d1d1b" stroke-width="0.12">4</text>
<text transform="translate(422.95,314.74) rotate(-72.1)" font-size="5.6" text-anchor="middle" dominant-baseline="central" fill="#1d1d1b" stroke="#1d1d1b" stroke-width="0.12">5</text>
<text transform="translate(408.52,341.83) rotate(-51.9)" font-size="5.6" text-anchor="middle" dominant-baseline="central" fill="#1d1d1b" stroke="#1d1d1b" stroke-width="0.12">6</text>
<text transform="translate(387.09,361.36) rotate(-32.8)" font-size="5.6" text-anchor="middle" dominant-baseline="central" fill="#1d1d1b" stroke="#1d1d1b" stroke-width="0.12">7</text>
<text transform="translate(362.34,372.32) rotate(-15.0)" font-size="5.6" text-anchor="middle" dominant-baseline="central" fill="#1d1d1b" stroke="#1d1d1b" stroke-width="0.12">8</text>
<text transform="translate(336.83,375.25) rotate(1.9)" font-size="5.6" text-anchor="middle" dominant-baseline="central" fill="#1d1d1b" stroke="#1d1d1b" stroke-width="0.12">9</text>
<text transform="translate(312.39,370.93) rotate(18.2)" font-size="5.6" text-anchor="middle" dominant-baseline="central" fill="#1d1d1b" stroke="#1d1d1b" stroke-width="0.12">10</text>
<text transform="translate(290.55,360.19) rotate(34.2)" font-size="5.6" text-anchor="middle" dominant-baseline="central" fill="#1d1d1b" stroke="#1d1d1b" stroke-width="0.12">11</text>
<text transform="translate(272.60,343.95) rotate(50.1)" font-size="5.6" text-anchor="middle" dominant-baseline="central" fill="#1d1d1b" stroke="#1d1d1b" stroke-width="0.12">12</text>
<text transform="translate(260.43,324.84) rotate(65.0)" font-size="5.6" text-anchor="middle" dominant-baseline="central" fill="#1d1d1b" stroke="#1d1d1b" stroke-width="0.12">13</text>
<text transform="translate(253.97,305.30) rotate(78.5)" font-size="5.6" text-anchor="middle" dominant-baseline="central" fill="#1d1d1b" stroke="#1d1d1b" stroke-width="0.12">14</text>
<text transform="translate(252.22,285.80) rotate(271.3)" font-size="5.6" text-anchor="middle" dominant-baseline="central" fill="#1d1d1b" stroke="#1d1d1b" stroke-width="0.12">15</text>
<text transform="translate(254.54,267.70) rotate(283.3)" font-size="5.6" text-anchor="middle" dominant-baseline="central" fill="#1d1d1b" stroke="#1d1d1b" stroke-width="0.12">16</text>
<text transform="translate(259.86,252.00) rotate(294.2)" font-size="5.6" text-anchor="middle" dominant-baseline="central" fill="#1d1d1b" stroke="#1d1d1b" stroke-width="0.12">17</text>
<text transform="translate(267.50,238.38) rotate(304.4)" font-size="5.6" text-anchor="middle" dominant-baseline="central" fill="#1d1d1b" stroke="#1d1d1b" stroke-width="0.12">18</text>
<text transform="translate(276.22,227.58) rotate(313.5)" font-size="5.6" text-anchor="middle" dominant-baseline="central" fill="#1d1d1b" stroke="#1d1d1b" stroke-width="0.12">19</text>
<text transform="translate(285.59,219.04) rotate(321.8)" font-size="5.6" text-anchor="middle" dominant-baseline="central" fill="#1d1d1b" stroke="#1d1d1b" stroke-width="0.12">20</text>
<text transform="translate(295.35,212.37) rotate(329.5)" font-size="5.6" text-anchor="middle" dominant-baseline="central" fill="#1d1d1b" stroke="#1d1d1b" stroke-width="0.12">21</text>
<text transform="translate(305.07,207.44) rotate(336.7)" font-size="5.6" text-anchor="middle" dominant-baseline="central" fill="#1d1d1b" stroke="#1d1d1b" stroke-width="0.12">22</text>
<text transform="translate(323.56,201.80) rotate(349.4)" font-size="5.6" text-anchor="middle" dominant-baseline="central" fill="#1d1d1b" stroke="#1d1d1b" stroke-width="0.12">X</text>
<path d="M338.84,205.90 A81.9,81.9 0 0 1 374.54,213.68 L373.73,215.40 A80.0,80.0 0 0 0 338.86,207.80 Z M377.11,214.94 A81.9,81.9 0 0 1 404.53,237.75 L403.02,238.91 A80.0,80.0 0 0 0 376.24,216.63 Z M406.23,240.04 A81.9,81.9 0 0 1 418.74,266.34 L416.90,266.84 A80.0,80.0 0 0 0 404.69,241.15 Z M419.44,269.11 A81.9,81.9 0 0 1 421.06,297.18 L419.17,296.96 A80.0,80.0 0 0 0 417.59,269.54 Z M420.68,300.01 A81.9,81.9 0 0 1 412.49,325.35 L410.80,324.47 A80.0,80.0 0 0 0 418.81,299.73 Z M411.13,327.86 A81.9,81.9 0 0 1 395.57,347.68 L394.28,346.29 A80.0,80.0 0 0 0 409.48,326.93 Z M393.45,349.59 A81.9,81.9 0 0 1 373.75,362.29 L372.96,360.56 A80.0,80.0 0 0 0 392.20,348.16 Z M371.13,363.43 A81.9,81.9 0 0 1 350.28,369.01 L350.04,367.13 A80.0,80.0 0 0 0 370.40,361.68 Z M347.44,369.33 A81.9,81.9 0 0 1 326.63,368.65 L326.94,366.78 A80.0,80.0 0 0 0 347.26,367.44 Z M323.82,368.15 A81.9,81.9 0 0 1 304.84,361.91 L305.65,360.19 A80.0,80.0 0 0 0 324.19,366.28 Z M302.27,360.65 A81.9,81.9 0 0 1 285.80,349.46 L287.05,348.03 A80.0,80.0 0 0 0 303.14,358.96 Z M283.68,347.55 A81.9,81.9 0 0 1 271.01,332.41 L272.61,331.37 A80.0,80.0 0 0 0 284.98,346.16 Z M269.50,329.98 A81.9,81.9 0 0 1 262.30,314.58 L264.10,313.96 A80.0,80.0 0 0 0 271.13,329.00 Z M261.41,311.86 A81.9,81.9 0 0 1 258.25,296.35 L260.14,296.15 A80.0,80.0 0 0 0 263.23,311.31 Z M258.00,293.50 A81.9,81.9 0 0 1 258.34,278.37 L260.23,278.59 A80.0,80.0 0 0 0 259.89,293.37 Z M258.72,275.54 A81.9,81.9 0 0 1 261.79,262.55 L263.60,263.14 A80.0,80.0 0 0 0 260.60,275.82 Z M262.72,259.85 A81.9,81.9 0 0 1 267.63,248.91 L269.30,249.81 A80.0,80.0 0 0 0 264.50,260.50 Z M269.03,246.41 A81.9,81.9 0 0 1 275.54,236.89 L277.03,238.07 A80.0,80.0 0 0 0 270.67,247.37 Z M277.36,234.69 A81.9,81.9 0 0 1 283.37,228.35 L284.67,229.73 A80.0,80.0 0 0 0 278.80,235.92 Z M285.48,226.42 A81.9,81.9 0 0 1 292.79,220.66 L293.88,222.22 A80.0,80.0 0 0 0 286.74,227.84 Z M295.16,219.07 A81.9,81.9 0 0 1 301.29,215.46 L302.18,217.14 A80.0,80.0 0 0 0 296.20,220.66 Z M303.84,214.17 A81.9,81.9 0 0 1 310.80,211.17 L311.47,212.95 A80.0,80.0 0 0 0 304.67,215.88 Z M313.49,210.21 A81.9,81.9 0 0 1 335.98,205.98 L336.07,207.88 A80.0,80.0 0 0 0 314.10,212.01 Z " fill="#ffffff"/>
<path d="M341.67,205.92 A81.9,81.9 0 0 1 342.34,205.94 L342.27,207.84 A80.0,80.0 0 0 0 341.63,207.82 Z M342.99,205.97 A81.9,81.9 0 0 1 343.36,205.98 L343.28,207.88 A80.0,80.0 0 0 0 342.91,207.86 Z M344.30,206.03 A81.9,81.9 0 0 1 344.67,206.05 L344.55,207.95 A80.0,80.0 0 0 0 344.19,207.93 Z M350.85,206.66 A81.9,81.9 0 0 1 351.53,206.76 L351.26,208.64 A80.0,80.0 0 0 0 350.59,208.54 Z M357.32,207.82 A81.9,81.9 0 0 1 357.77,207.92 L357.35,209.77 A80.0,80.0 0 0 0 356.92,209.67 Z M358.61,208.11 A81.9,81.9 0 0 1 359.31,208.28 L358.86,210.13 A80.0,80.0 0 0 0 358.17,209.96 Z M362.43,209.12 A81.9,81.9 0 0 1 363.15,209.33 L362.60,211.15 A80.0,80.0 0 0 0 361.90,210.94 Z M363.69,209.49 A81.9,81.9 0 0 1 364.19,209.65 L363.63,211.46 A80.0,80.0 0 0 0 363.13,211.31 Z M367.43,210.74 A81.9,81.9 0 0 1 367.89,210.91 L367.24,212.69 A80.0,80.0 0 0 0 366.79,212.53 Z M373.53,213.21 A81.9,81.9 0 0 1 373.92,213.39 L373.13,215.12 A80.0,80.0 0 0 0 372.74,214.94 Z M380.79,216.95 A81.9,81.9 0 0 1 381.39,217.31 L380.43,218.94 A80.0,80.0 0 0 0 379.84,218.60 Z M383.07,218.33 A81.9,81.9 0 0 1 383.84,218.81 L382.82,220.41 A80.0,80.0 0 0 0 382.06,219.94 Z M385.31,219.77 A81.9,81.9 0 0 1 385.94,220.20 L384.87,221.77 A80.0,80.0 0 0 0 384.25,221.35 Z M387.49,221.29 A81.9,81.9 0 0 1 387.91,221.59 L386.79,223.13 A80.0,80.0 0 0 0 386.39,222.83 Z M392.74,225.39 A81.9,81.9 0 0 1 393.11,225.71 L391.87,227.15 A80.0,80.0 0 0 0 391.51,226.84 Z M394.74,227.15 A81.9,81.9 0 0 1 395.19,227.56 L393.90,228.96 A80.0,80.0 0 0 0 393.46,228.56 Z M401.27,233.79 A81.9,81.9 0 0 1 401.69,234.27 L400.25,235.51 A80.0,80.0 0 0 0 399.84,235.05 Z M402.99,235.82 A81.9,81.9 0 0 1 403.37,236.28 L401.89,237.48 A80.0,80.0 0 0 0 401.52,237.03 Z M406.35,240.21 A81.9,81.9 0 0 1 406.73,240.74 L405.17,241.83 A80.0,80.0 0 0 0 404.80,241.31 Z M409.30,244.63 A81.9,81.9 0 0 1 409.60,245.13 L407.98,246.12 A80.0,80.0 0 0 0 407.69,245.64 Z M409.99,245.77 A81.9,81.9 0 0 1 410.20,246.12 L408.56,247.09 A80.0,80.0 0 0 0 408.36,246.75 Z M413.17,251.61 A81.9,81.9 0 0 1 413.35,251.98 L411.64,252.81 A80.0,80.0 0 0 0 411.47,252.45 Z M416.34,258.93 A81.9,81.9 0 0 1 416.56,259.52 L414.78,260.17 A80.0,80.0 0 0 0 414.57,259.60 Z M419.48,269.31 A81.9,81.9 0 0 1 419.56,269.66 L417.71,270.08 A80.0,80.0 0 0 0 417.63,269.73 Z M420.53,274.59 A81.9,81.9 0 0 1 420.65,275.38 L418.78,275.67 A80.0,80.0 0 0 0 418.65,274.89 Z M421.41,293.36 A81.9,81.9 0 0 1 421.38,293.83 L419.48,293.69 A80.0,80.0 0 0 0 419.52,293.23 Z M421.18,296.04 A81.9,81.9 0 0 1 421.12,296.67 L419.23,296.47 A80.0,80.0 0 0 0 419.29,295.85 Z M420.21,302.85 A81.9,81.9 0 0 1 420.06,303.63 L418.19,303.26 A80.0,80.0 0 0 0 418.34,302.50 Z M419.37,306.77 A81.9,81.9 0 0 1 419.15,307.67 L417.31,307.21 A80.0,80.0 0 0 0 417.52,306.33 Z M417.13,314.47 A81.9,81.9 0 0 1 416.83,315.35 L415.04,314.71 A80.0,80.0 0 0 0 415.34,313.86 Z M416.69,315.73 A81.9,81.9 0 0 1 416.50,316.25 L414.72,315.59 A80.0,80.0 0 0 0 414.90,315.09 Z M415.74,318.23 A81.9,81.9 0 0 1 415.39,319.09 L413.63,318.36 A80.0,80.0 0 0 0 413.97,317.53 Z M413.00,324.33 A81.9,81.9 0 0 1 412.78,324.77 L411.09,323.91 A80.0,80.0 0 0 0 411.30,323.48 Z M409.69,330.33 A81.9,81.9 0 0 1 409.37,330.86 L407.75,329.86 A80.0,80.0 0 0 0 408.07,329.35 Z M408.99,331.47 A81.9,81.9 0 0 1 408.51,332.21 L406.92,331.18 A80.0,80.0 0 0 0 407.38,330.45 Z M408.27,332.59 A81.9,81.9 0 0 1 407.78,333.33 L406.20,332.28 A80.0,80.0 0 0 0 406.68,331.55 Z M407.53,333.70 A81.9,81.9 0 0 1 407.16,334.24 L405.59,333.17 A80.0,80.0 0 0 0 405.96,332.63 Z M406.78,334.79 A81.9,81.9 0 0 1 406.57,335.08 L405.02,333.98 A80.0,80.0 0 0 0 405.22,333.70 Z M402.74,340.08 A81.9,81.9 0 0 1 402.32,340.58 L400.87,339.36 A80.0,80.0 0 0 0 401.28,338.87 Z M399.21,344.07 A81.9,81.9 0 0 1 398.76,344.54 L397.39,343.22 A80.0,80.0 0 0 0 397.83,342.76 Z M397.35,345.97 A81.9,81.9 0 0 1 396.92,346.40 L395.59,345.04 A80.0,80.0 0 0 0 396.01,344.62 Z M396.40,346.90 A81.9,81.9 0 0 1 395.93,347.35 L394.62,345.97 A80.0,80.0 0 0 0 395.08,345.53 Z M393.30,349.72 A81.9,81.9 0 0 1 392.84,350.12 L391.60,348.68 A80.0,80.0 0 0 0 392.06,348.29 Z M387.14,354.56 A81.9,81.9 0 0 1 386.80,354.80 L385.71,353.25 A80.0,80.0 0 0 0 386.04,353.01 Z M378.25,360.06 A81.9,81.9 0 0 1 377.74,360.33 L376.86,358.65 A80.0,80.0 0 0 0 377.36,358.38 Z M375.93,361.25 A81.9,81.9 0 0 1 375.53,361.44 L374.70,359.74 A80.0,80.0 0 0 0 375.09,359.55 Z M369.68,364.01 A81.9,81.9 0 0 1 369.35,364.14 L368.67,362.37 A80.0,80.0 0 0 0 368.99,362.25 Z M367.15,364.96 A81.9,81.9 0 0 1 366.64,365.14 L366.01,363.35 A80.0,80.0 0 0 0 366.51,363.17 Z M359.38,367.30 A81.9,81.9 0 0 1 358.97,367.40 L358.53,365.55 A80.0,80.0 0 0 0 358.93,365.46 Z M355.42,368.18 A81.9,81.9 0 0 1 354.54,368.34 L354.20,366.48 A80.0,80.0 0 0 0 355.06,366.31 Z M329.02,369.00 A81.9,81.9 0 0 1 328.25,368.90 L328.51,367.01 A80.0,80.0 0 0 0 329.27,367.12 Z M327.73,368.82 A81.9,81.9 0 0 1 327.28,368.75 L327.57,366.87 A80.0,80.0 0 0 0 328.01,366.94 Z M322.32,367.83 A81.9,81.9 0 0 1 321.73,367.70 L322.14,365.85 A80.0,80.0 0 0 0 322.72,365.98 Z M321.01,367.54 A81.9,81.9 0 0 1 320.19,367.34 L320.65,365.50 A80.0,80.0 0 0 0 321.45,365.69 Z M315.86,366.15 A81.9,81.9 0 0 1 315.16,365.94 L315.73,364.13 A80.0,80.0 0 0 0 316.41,364.33 Z M300.92,359.94 A81.9,81.9 0 0 1 300.10,359.49 L301.02,357.83 A80.0,80.0 0 0 0 301.82,358.26 Z M297.45,357.96 A81.9,81.9 0 0 1 297.15,357.78 L298.14,356.16 A80.0,80.0 0 0 0 298.43,356.33 Z M296.31,357.26 A81.9,81.9 0 0 1 295.78,356.93 L296.80,355.33 A80.0,80.0 0 0 0 297.32,355.65 Z M295.19,356.55 A81.9,81.9 0 0 1 294.80,356.30 L295.84,354.71 A80.0,80.0 0 0 0 296.22,354.96 Z M292.98,355.07 A81.9,81.9 0 0 1 292.66,354.84 L293.75,353.29 A80.0,80.0 0 0 0 294.07,353.51 Z M289.76,352.71 A81.9,81.9 0 0 1 289.21,352.29 L290.38,350.79 A80.0,80.0 0 0 0 290.92,351.21 Z M288.71,351.89 A81.9,81.9 0 0 1 288.09,351.40 L289.29,349.92 A80.0,80.0 0 0 0 289.90,350.41 Z M278.92,342.70 A81.9,81.9 0 0 1 278.49,342.21 L279.91,340.95 A80.0,80.0 0 0 0 280.33,341.43 Z M277.19,340.71 A81.9,81.9 0 0 1 276.65,340.07 L278.11,338.86 A80.0,80.0 0 0 0 278.64,339.49 Z M273.13,335.51 A81.9,81.9 0 0 1 272.64,334.82 L274.20,333.73 A80.0,80.0 0 0 0 274.68,334.41 Z M272.37,334.43 A81.9,81.9 0 0 1 271.97,333.84 L273.54,332.77 A80.0,80.0 0 0 0 273.94,333.35 Z M271.63,333.34 A81.9,81.9 0 0 1 271.22,332.72 L272.80,331.67 A80.0,80.0 0 0 0 273.21,332.29 Z M268.73,328.68 A81.9,81.9 0 0 1 268.41,328.12 L270.07,327.19 A80.0,80.0 0 0 0 270.38,327.74 Z M265.14,321.70 A81.9,81.9 0 0 1 264.88,321.11 L266.62,320.34 A80.0,80.0 0 0 0 266.87,320.91 Z M264.10,319.29 A81.9,81.9 0 0 1 263.79,318.55 L265.55,317.84 A80.0,80.0 0 0 0 265.85,318.56 Z M260.29,307.85 A81.9,81.9 0 0 1 260.17,307.35 L262.01,306.90 A80.0,80.0 0 0 0 262.14,307.39 Z M259.98,306.57 A81.9,81.9 0 0 1 259.84,305.96 L261.69,305.54 A80.0,80.0 0 0 0 261.83,306.13 Z M258.73,300.08 A81.9,81.9 0 0 1 258.59,299.17 L260.47,298.90 A80.0,80.0 0 0 0 260.60,299.80 Z M257.98,293.29 A81.9,81.9 0 0 1 257.96,292.86 L259.85,292.75 A80.0,80.0 0 0 0 259.88,293.16 Z M257.85,290.54 A81.9,81.9 0 0 1 257.82,289.71 L259.72,289.66 A80.0,80.0 0 0 0 259.74,290.48 Z M257.85,285.03 A81.9,81.9 0 0 1 257.86,284.69 L259.76,284.76 A80.0,80.0 0 0 0 259.75,285.10 Z M259.20,272.71 A81.9,81.9 0 0 1 259.30,272.20 L261.17,272.56 A80.0,80.0 0 0 0 261.07,273.06 Z M259.74,270.09 A81.9,81.9 0 0 1 259.89,269.41 L261.74,269.84 A80.0,80.0 0 0 0 261.59,270.50 Z M261.45,263.63 A81.9,81.9 0 0 1 261.60,263.15 L263.41,263.73 A80.0,80.0 0 0 0 263.26,264.20 Z M264.25,255.94 A81.9,81.9 0 0 1 264.61,255.10 L266.35,255.86 A80.0,80.0 0 0 0 266.00,256.68 Z M265.33,253.50 A81.9,81.9 0 0 1 265.66,252.79 L267.38,253.60 A80.0,80.0 0 0 0 267.05,254.29 Z M265.90,252.29 A81.9,81.9 0 0 1 266.25,251.58 L267.95,252.42 A80.0,80.0 0 0 0 267.61,253.11 Z M270.64,243.77 A81.9,81.9 0 0 1 270.91,243.35 L272.51,244.38 A80.0,80.0 0 0 0 272.25,244.79 Z M271.43,242.56 A81.9,81.9 0 0 1 271.72,242.12 L273.30,243.18 A80.0,80.0 0 0 0 273.02,243.61 Z M273.92,239.01 A81.9,81.9 0 0 1 274.45,238.30 L275.96,239.45 A80.0,80.0 0 0 0 275.44,240.14 Z M282.48,229.21 A81.9,81.9 0 0 1 283.05,228.66 L284.36,230.03 A80.0,80.0 0 0 0 283.80,230.57 Z M285.63,226.29 A81.9,81.9 0 0 1 286.12,225.86 L287.37,227.29 A80.0,80.0 0 0 0 286.88,227.72 Z M288.69,223.73 A81.9,81.9 0 0 1 289.02,223.47 L290.19,224.96 A80.0,80.0 0 0 0 289.87,225.21 Z M291.87,221.32 A81.9,81.9 0 0 1 292.27,221.03 L293.37,222.58 A80.0,80.0 0 0 0 292.98,222.86 Z M298.99,216.74 A81.9,81.9 0 0 1 299.75,216.30 L300.68,217.96 A80.0,80.0 0 0 0 299.93,218.38 Z M308.19,212.20 A81.9,81.9 0 0 1 308.60,212.04 L309.32,213.79 A80.0,80.0 0 0 0 308.92,213.96 Z M314.97,209.72 A81.9,81.9 0 0 1 315.56,209.54 L316.12,211.35 A80.0,80.0 0 0 0 315.54,211.53 Z M324.13,207.39 A81.9,81.9 0 0 1 324.77,207.27 L325.12,209.14 A80.0,80.0 0 0 0 324.49,209.26 Z M328.12,206.72 A81.9,81.9 0 0 1 328.64,206.65 L328.90,208.53 A80.0,80.0 0 0 0 328.39,208.60 Z M329.46,206.54 A81.9,81.9 0 0 1 330.37,206.43 L330.59,208.32 A80.0,80.0 0 0 0 329.70,208.43 Z M330.80,206.38 A81.9,81.9 0 0 1 331.67,206.29 L331.86,208.19 A80.0,80.0 0 0 0 331.01,208.27 Z " fill="#9a9a9a"/>
<path d="M339.04,205.90 A81.9,81.9 0 0 1 339.49,205.90 L339.49,207.80 A80.0,80.0 0 0 0 339.06,207.80 Z M340.36,205.90 A81.9,81.9 0 0 1 340.97,205.91 L340.94,207.81 A80.0,80.0 0 0 0 340.34,207.80 Z M345.61,206.11 A81.9,81.9 0 0 1 345.93,206.14 L345.79,208.03 A80.0,80.0 0 0 0 345.48,208.01 Z M348.24,206.35 A81.9,81.9 0 0 1 348.58,206.38 L348.38,208.27 A80.0,80.0 0 0 0 348.04,208.24 Z M352.15,206.85 A81.9,81.9 0 0 1 352.92,206.97 L352.61,208.85 A80.0,80.0 0 0 0 351.86,208.73 Z M353.45,207.06 A81.9,81.9 0 0 1 354.15,207.19 L353.82,209.06 A80.0,80.0 0 0 0 353.13,208.94 Z M354.75,207.29 A81.9,81.9 0 0 1 355.10,207.36 L354.74,209.23 A80.0,80.0 0 0 0 354.40,209.16 Z M359.89,208.43 A81.9,81.9 0 0 1 360.43,208.57 L359.95,210.40 A80.0,80.0 0 0 0 359.42,210.27 Z M361.16,208.76 A81.9,81.9 0 0 1 361.46,208.84 L360.96,210.68 A80.0,80.0 0 0 0 360.66,210.59 Z M364.94,209.89 A81.9,81.9 0 0 1 365.43,210.05 L364.83,211.85 A80.0,80.0 0 0 0 364.36,211.69 Z M369.89,211.67 A81.9,81.9 0 0 1 370.50,211.91 L369.78,213.67 A80.0,80.0 0 0 0 369.19,213.44 Z M371.11,212.16 A81.9,81.9 0 0 1 371.83,212.47 L371.08,214.21 A80.0,80.0 0 0 0 370.38,213.92 Z M384.19,219.04 A81.9,81.9 0 0 1 384.71,219.38 L383.67,220.97 A80.0,80.0 0 0 0 383.16,220.64 Z M388.57,222.08 A81.9,81.9 0 0 1 389.07,222.45 L387.92,223.97 A80.0,80.0 0 0 0 387.44,223.60 Z M389.63,222.88 A81.9,81.9 0 0 1 390.04,223.20 L388.87,224.70 A80.0,80.0 0 0 0 388.47,224.39 Z M390.68,223.70 A81.9,81.9 0 0 1 390.95,223.92 L389.76,225.40 A80.0,80.0 0 0 0 389.50,225.19 Z M391.72,224.54 A81.9,81.9 0 0 1 392.23,224.97 L391.01,226.42 A80.0,80.0 0 0 0 390.51,226.01 Z M393.74,226.26 A81.9,81.9 0 0 1 394.28,226.74 L393.02,228.16 A80.0,80.0 0 0 0 392.49,227.69 Z M396.68,228.97 A81.9,81.9 0 0 1 397.19,229.47 L395.86,230.83 A80.0,80.0 0 0 0 395.36,230.34 Z M397.63,229.91 A81.9,81.9 0 0 1 397.98,230.26 L396.63,231.59 A80.0,80.0 0 0 0 396.29,231.25 Z M399.48,231.82 A81.9,81.9 0 0 1 399.73,232.08 L398.34,233.38 A80.0,80.0 0 0 0 398.09,233.12 Z M400.38,232.80 A81.9,81.9 0 0 1 400.65,233.10 L399.24,234.37 A80.0,80.0 0 0 0 398.98,234.07 Z M402.14,234.80 A81.9,81.9 0 0 1 402.41,235.12 L400.95,236.34 A80.0,80.0 0 0 0 400.69,236.03 Z M407.12,241.29 A81.9,81.9 0 0 1 407.47,241.81 L405.90,242.88 A80.0,80.0 0 0 0 405.55,242.37 Z M410.67,246.92 A81.9,81.9 0 0 1 410.82,247.19 L409.17,248.13 A80.0,80.0 0 0 0 409.02,247.87 Z M411.32,248.08 A81.9,81.9 0 0 1 411.51,248.42 L409.84,249.33 A80.0,80.0 0 0 0 409.66,249.00 Z M411.96,249.24 A81.9,81.9 0 0 1 412.17,249.65 L410.49,250.53 A80.0,80.0 0 0 0 410.28,250.14 Z M412.57,250.42 A81.9,81.9 0 0 1 412.70,250.68 L411.01,251.54 A80.0,80.0 0 0 0 410.88,251.29 Z M414.31,254.02 A81.9,81.9 0 0 1 414.55,254.56 L412.81,255.33 A80.0,80.0 0 0 0 412.58,254.80 Z M414.85,255.23 A81.9,81.9 0 0 1 415.01,255.61 L413.26,256.36 A80.0,80.0 0 0 0 413.10,255.99 Z M415.37,256.46 A81.9,81.9 0 0 1 415.54,256.89 L413.78,257.61 A80.0,80.0 0 0 0 413.61,257.19 Z M416.80,260.18 A81.9,81.9 0 0 1 416.91,260.49 L415.12,261.13 A80.0,80.0 0 0 0 415.01,260.82 Z M417.24,261.44 A81.9,81.9 0 0 1 417.39,261.87 L415.59,262.47 A80.0,80.0 0 0 0 415.44,262.05 Z M417.66,262.70 A81.9,81.9 0 0 1 417.87,263.37 L416.06,263.94 A80.0,80.0 0 0 0 415.85,263.28 Z M418.43,265.25 A81.9,81.9 0 0 1 418.58,265.78 L416.75,266.29 A80.0,80.0 0 0 0 416.61,265.77 Z M420.05,271.94 A81.9,81.9 0 0 1 420.17,272.56 L418.30,272.91 A80.0,80.0 0 0 0 418.19,272.30 Z M420.30,273.26 A81.9,81.9 0 0 1 420.38,273.72 L418.51,274.05 A80.0,80.0 0 0 0 418.43,273.60 Z M420.73,275.91 A81.9,81.9 0 0 1 420.83,276.58 L418.95,276.84 A80.0,80.0 0 0 0 418.85,276.19 Z M421.34,281.26 A81.9,81.9 0 0 1 421.39,281.92 L419.49,282.05 A80.0,80.0 0 0 0 419.44,281.41 Z M421.44,282.60 A81.9,81.9 0 0 1 421.47,283.15 L419.57,283.26 A80.0,80.0 0 0 0 419.54,282.73 Z M421.51,283.95 A81.9,81.9 0 0 1 421.52,284.25 L419.62,284.33 A80.0,80.0 0 0 0 419.61,284.04 Z M421.56,285.29 A81.9,81.9 0 0 1 421.57,285.72 L419.67,285.77 A80.0,80.0 0 0 0 419.66,285.35 Z M421.55,290.67 A81.9,81.9 0 0 1 421.53,291.14 L419.63,291.06 A80.0,80.0 0 0 0 419.65,290.61 Z M421.49,292.02 A81.9,81.9 0 0 1 421.47,292.42 L419.57,292.31 A80.0,80.0 0 0 0 419.59,291.92 Z M418.71,309.36 A81.9,81.9 0 0 1 418.54,309.99 L416.71,309.47 A80.0,80.0 0 0 0 416.88,308.86 Z M418.35,310.65 A81.9,81.9 0 0 1 418.25,310.99 L416.43,310.45 A80.0,80.0 0 0 0 416.52,310.12 Z M416.22,316.99 A81.9,81.9 0 0 1 416.10,317.32 L414.32,316.63 A80.0,80.0 0 0 0 414.45,316.31 Z M414.15,321.92 A81.9,81.9 0 0 1 413.86,322.55 L412.14,321.75 A80.0,80.0 0 0 0 412.43,321.13 Z M413.59,323.13 A81.9,81.9 0 0 1 413.41,323.50 L411.70,322.67 A80.0,80.0 0 0 0 411.87,322.31 Z M411.03,328.04 A81.9,81.9 0 0 1 410.79,328.47 L409.14,327.52 A80.0,80.0 0 0 0 409.38,327.10 Z M410.37,329.19 A81.9,81.9 0 0 1 409.99,329.83 L408.36,328.85 A80.0,80.0 0 0 0 408.73,328.23 Z M406.00,335.88 A81.9,81.9 0 0 1 405.78,336.18 L404.25,335.06 A80.0,80.0 0 0 0 404.47,334.76 Z M405.21,336.95 A81.9,81.9 0 0 1 404.80,337.49 L403.29,336.34 A80.0,80.0 0 0 0 403.69,335.81 Z M403.58,339.05 A81.9,81.9 0 0 1 403.23,339.49 L401.75,338.29 A80.0,80.0 0 0 0 402.10,337.86 Z M401.88,341.10 A81.9,81.9 0 0 1 401.44,341.61 L400.01,340.37 A80.0,80.0 0 0 0 400.44,339.86 Z M401.01,342.10 A81.9,81.9 0 0 1 400.63,342.53 L399.22,341.26 A80.0,80.0 0 0 0 399.59,340.84 Z M390.28,352.22 A81.9,81.9 0 0 1 389.68,352.68 L388.52,351.18 A80.0,80.0 0 0 0 389.11,350.72 Z M388.20,353.80 A81.9,81.9 0 0 1 387.63,354.21 L386.52,352.67 A80.0,80.0 0 0 0 387.07,352.27 Z M386.07,355.31 A81.9,81.9 0 0 1 385.80,355.49 L384.73,353.92 A80.0,80.0 0 0 0 384.99,353.74 Z M381.67,358.13 A81.9,81.9 0 0 1 381.14,358.44 L380.18,356.80 A80.0,80.0 0 0 0 380.69,356.50 Z M374.75,361.82 A81.9,81.9 0 0 1 374.26,362.05 L373.46,360.33 A80.0,80.0 0 0 0 373.94,360.10 Z M368.42,364.50 A81.9,81.9 0 0 1 367.95,364.67 L367.29,362.89 A80.0,80.0 0 0 0 367.76,362.72 Z M365.87,365.41 A81.9,81.9 0 0 1 365.36,365.58 L364.76,363.77 A80.0,80.0 0 0 0 365.27,363.61 Z M363.30,366.23 A81.9,81.9 0 0 1 362.55,366.45 L362.02,364.62 A80.0,80.0 0 0 0 362.75,364.41 Z M362.00,366.61 A81.9,81.9 0 0 1 361.59,366.72 L361.09,364.89 A80.0,80.0 0 0 0 361.48,364.78 Z M360.69,366.96 A81.9,81.9 0 0 1 360.04,367.13 L359.57,365.29 A80.0,80.0 0 0 0 360.21,365.13 Z M356.75,367.91 A81.9,81.9 0 0 1 356.34,367.99 L355.95,366.13 A80.0,80.0 0 0 0 356.35,366.05 Z M354.09,368.43 A81.9,81.9 0 0 1 353.46,368.54 L353.14,366.66 A80.0,80.0 0 0 0 353.76,366.56 Z M351.42,368.86 A81.9,81.9 0 0 1 350.93,368.93 L350.67,367.04 A80.0,80.0 0 0 0 351.15,366.98 Z M343.34,369.62 A81.9,81.9 0 0 1 342.83,369.64 L342.76,367.74 A80.0,80.0 0 0 0 343.26,367.72 Z M340.73,369.69 A81.9,81.9 0 0 1 340.31,369.70 L340.30,367.80 A80.0,80.0 0 0 0 340.71,367.79 Z M339.43,369.70 A81.9,81.9 0 0 1 338.88,369.70 L338.90,367.80 A80.0,80.0 0 0 0 339.43,367.80 Z M338.12,369.68 A81.9,81.9 0 0 1 337.78,369.68 L337.83,367.78 A80.0,80.0 0 0 0 338.16,367.79 Z M336.82,369.65 A81.9,81.9 0 0 1 336.51,369.64 L336.58,367.74 A80.0,80.0 0 0 0 336.89,367.75 Z M335.52,369.59 A81.9,81.9 0 0 1 335.07,369.57 L335.18,367.67 A80.0,80.0 0 0 0 335.61,367.70 Z M334.21,369.52 A81.9,81.9 0 0 1 333.55,369.47 L333.69,367.57 A80.0,80.0 0 0 0 334.34,367.62 Z M332.91,369.42 A81.9,81.9 0 0 1 332.38,369.37 L332.55,367.48 A80.0,80.0 0 0 0 333.07,367.52 Z M331.61,369.30 A81.9,81.9 0 0 1 331.16,369.25 L331.35,367.36 A80.0,80.0 0 0 0 331.80,367.41 Z M330.32,369.16 A81.9,81.9 0 0 1 329.91,369.11 L330.14,367.23 A80.0,80.0 0 0 0 330.53,367.27 Z M318.42,366.89 A81.9,81.9 0 0 1 317.67,366.68 L318.18,364.85 A80.0,80.0 0 0 0 318.92,365.05 Z M314.58,365.75 A81.9,81.9 0 0 1 314.14,365.61 L314.74,363.81 A80.0,80.0 0 0 0 315.16,363.94 Z M313.31,365.33 A81.9,81.9 0 0 1 312.98,365.22 L313.60,363.42 A80.0,80.0 0 0 0 313.93,363.53 Z M312.05,364.89 A81.9,81.9 0 0 1 311.44,364.67 L312.09,362.89 A80.0,80.0 0 0 0 312.69,363.10 Z M310.80,364.43 A81.9,81.9 0 0 1 310.46,364.30 L311.13,362.53 A80.0,80.0 0 0 0 311.47,362.65 Z M308.32,363.45 A81.9,81.9 0 0 1 307.74,363.21 L308.49,361.46 A80.0,80.0 0 0 0 309.04,361.69 Z M307.09,362.93 A81.9,81.9 0 0 1 306.71,362.76 L307.48,361.02 A80.0,80.0 0 0 0 307.84,361.18 Z M305.87,362.39 A81.9,81.9 0 0 1 305.40,362.17 L306.19,360.45 A80.0,80.0 0 0 0 306.65,360.65 Z M298.59,358.64 A81.9,81.9 0 0 1 298.21,358.42 L299.18,356.78 A80.0,80.0 0 0 0 299.55,356.99 Z M294.08,355.82 A81.9,81.9 0 0 1 293.84,355.66 L294.91,354.08 A80.0,80.0 0 0 0 295.14,354.24 Z M291.90,354.30 A81.9,81.9 0 0 1 291.65,354.12 L292.76,352.58 A80.0,80.0 0 0 0 293.00,352.76 Z M290.82,353.52 A81.9,81.9 0 0 1 290.47,353.25 L291.61,351.73 A80.0,80.0 0 0 0 291.96,351.99 Z M286.66,350.20 A81.9,81.9 0 0 1 286.29,349.89 L287.53,348.45 A80.0,80.0 0 0 0 287.89,348.75 Z M282.58,346.50 A81.9,81.9 0 0 1 282.15,346.07 L283.49,344.72 A80.0,80.0 0 0 0 283.91,345.14 Z M279.82,343.67 A81.9,81.9 0 0 1 279.35,343.16 L280.75,341.88 A80.0,80.0 0 0 0 281.21,342.37 Z M275.52,338.67 A81.9,81.9 0 0 1 275.12,338.17 L276.62,337.01 A80.0,80.0 0 0 0 277.00,337.49 Z M274.70,337.63 A81.9,81.9 0 0 1 274.52,337.39 L276.03,336.24 A80.0,80.0 0 0 0 276.21,336.48 Z M273.91,336.58 A81.9,81.9 0 0 1 273.63,336.20 L275.17,335.08 A80.0,80.0 0 0 0 275.44,335.45 Z M268.09,327.54 A81.9,81.9 0 0 1 267.79,327.00 L269.46,326.10 A80.0,80.0 0 0 0 269.75,326.62 Z M267.46,326.39 A81.9,81.9 0 0 1 267.16,325.82 L268.84,324.93 A80.0,80.0 0 0 0 269.14,325.50 Z M266.86,325.23 A81.9,81.9 0 0 1 266.71,324.95 L268.40,324.08 A80.0,80.0 0 0 0 268.55,324.36 Z M266.27,324.06 A81.9,81.9 0 0 1 265.98,323.48 L267.69,322.65 A80.0,80.0 0 0 0 267.97,323.22 Z M263.60,318.08 A81.9,81.9 0 0 1 263.38,317.52 L265.15,316.83 A80.0,80.0 0 0 0 265.37,317.38 Z M263.13,316.86 A81.9,81.9 0 0 1 263.00,316.52 L264.78,315.86 A80.0,80.0 0 0 0 264.91,316.19 Z M262.67,315.63 A81.9,81.9 0 0 1 262.45,315.01 L264.24,314.38 A80.0,80.0 0 0 0 264.46,314.99 Z M261.36,311.67 A81.9,81.9 0 0 1 261.27,311.39 L263.09,310.85 A80.0,80.0 0 0 0 263.17,311.12 Z M259.16,302.69 A81.9,81.9 0 0 1 259.03,301.95 L260.90,301.62 A80.0,80.0 0 0 0 261.03,302.34 Z M258.54,298.77 A81.9,81.9 0 0 1 258.48,298.36 L260.37,298.11 A80.0,80.0 0 0 0 260.42,298.52 Z M258.37,297.46 A81.9,81.9 0 0 1 258.29,296.71 L260.17,296.50 A80.0,80.0 0 0 0 260.26,297.24 Z M257.90,291.92 A81.9,81.9 0 0 1 257.87,291.16 L259.77,291.08 A80.0,80.0 0 0 0 259.80,291.82 Z M257.81,286.41 A81.9,81.9 0 0 1 257.82,285.88 L259.72,285.92 A80.0,80.0 0 0 0 259.71,286.44 Z M257.90,283.66 A81.9,81.9 0 0 1 257.93,283.14 L259.83,283.25 A80.0,80.0 0 0 0 259.80,283.75 Z M257.99,282.28 A81.9,81.9 0 0 1 258.01,281.92 L259.91,282.06 A80.0,80.0 0 0 0 259.88,282.41 Z M260.04,268.79 A81.9,81.9 0 0 1 260.15,268.30 L262.00,268.75 A80.0,80.0 0 0 0 261.89,269.23 Z M260.36,267.49 A81.9,81.9 0 0 1 260.44,267.19 L262.27,267.67 A80.0,80.0 0 0 0 262.20,267.96 Z M260.70,266.20 A81.9,81.9 0 0 1 260.89,265.52 L262.72,266.04 A80.0,80.0 0 0 0 262.53,266.70 Z M261.06,264.91 A81.9,81.9 0 0 1 261.28,264.19 L263.10,264.74 A80.0,80.0 0 0 0 262.89,265.44 Z M264.78,254.71 A81.9,81.9 0 0 1 265.04,254.12 L266.78,254.90 A80.0,80.0 0 0 0 266.52,255.48 Z M266.49,251.09 A81.9,81.9 0 0 1 266.68,250.71 L268.37,251.57 A80.0,80.0 0 0 0 268.18,251.95 Z M267.09,249.91 A81.9,81.9 0 0 1 267.44,249.24 L269.12,250.14 A80.0,80.0 0 0 0 268.78,250.79 Z M269.14,246.23 A81.9,81.9 0 0 1 269.37,245.83 L271.00,246.81 A80.0,80.0 0 0 0 270.77,247.19 Z M272.24,241.36 A81.9,81.9 0 0 1 272.51,240.96 L274.07,242.05 A80.0,80.0 0 0 0 273.80,242.44 Z M273.07,240.18 A81.9,81.9 0 0 1 273.28,239.88 L274.82,240.99 A80.0,80.0 0 0 0 274.61,241.28 Z M277.50,234.52 A81.9,81.9 0 0 1 277.83,234.13 L279.27,235.38 A80.0,80.0 0 0 0 278.94,235.76 Z M278.46,233.42 A81.9,81.9 0 0 1 278.71,233.14 L280.13,234.41 A80.0,80.0 0 0 0 279.88,234.68 Z M279.43,232.34 A81.9,81.9 0 0 1 279.74,232.01 L281.14,233.30 A80.0,80.0 0 0 0 280.83,233.63 Z M280.43,231.28 A81.9,81.9 0 0 1 280.71,230.99 L282.08,232.30 A80.0,80.0 0 0 0 281.80,232.59 Z M286.63,225.42 A81.9,81.9 0 0 1 286.98,225.12 L288.20,226.58 A80.0,80.0 0 0 0 287.86,226.86 Z M290.80,222.10 A81.9,81.9 0 0 1 291.11,221.87 L292.24,223.40 A80.0,80.0 0 0 0 291.93,223.63 Z M296.55,218.19 A81.9,81.9 0 0 1 297.16,217.81 L298.15,219.44 A80.0,80.0 0 0 0 297.55,219.81 Z M300.23,216.04 A81.9,81.9 0 0 1 300.74,215.76 L301.64,217.43 A80.0,80.0 0 0 0 301.14,217.70 Z M306.80,212.80 A81.9,81.9 0 0 1 307.18,212.64 L307.93,214.38 A80.0,80.0 0 0 0 307.56,214.54 Z M318.86,208.60 A81.9,81.9 0 0 1 319.45,208.44 L319.92,210.28 A80.0,80.0 0 0 0 319.34,210.43 Z M320.17,208.26 A81.9,81.9 0 0 1 320.51,208.18 L320.96,210.03 A80.0,80.0 0 0 0 320.62,210.11 Z M322.80,207.66 A81.9,81.9 0 0 1 323.14,207.59 L323.52,209.45 A80.0,80.0 0 0 0 323.20,209.52 Z M325.45,207.15 A81.9,81.9 0 0 1 325.93,207.07 L326.25,208.94 A80.0,80.0 0 0 0 325.79,209.02 Z M326.79,206.92 A81.9,81.9 0 0 1 327.37,206.83 L327.65,208.71 A80.0,80.0 0 0 0 327.09,208.80 Z M332.15,206.25 A81.9,81.9 0 0 1 332.55,206.21 L332.71,208.11 A80.0,80.0 0 0 0 332.32,208.14 Z M334.84,206.04 A81.9,81.9 0 0 1 335.28,206.02 L335.38,207.92 A80.0,80.0 0 0 0 334.95,207.94 Z " fill="#231f20"/>
<path d="M350.13,206.77 A81.7,81.7 0 0 1 350.77,206.85 L350.56,208.34 A80.2,80.2 0 0 0 349.94,208.26 Z M390.22,223.59 A81.7,81.7 0 0 1 390.72,223.99 L389.79,225.16 A80.2,80.2 0 0 0 389.29,224.77 Z M412.30,250.33 A81.7,81.7 0 0 1 412.59,250.90 L411.25,251.57 A80.2,80.2 0 0 0 410.97,251.01 Z M421.19,281.96 A81.7,81.7 0 0 1 421.23,282.60 L419.74,282.69 A80.2,80.2 0 0 0 419.69,282.07 Z M418.56,309.17 A81.7,81.7 0 0 1 418.39,309.78 L416.94,309.38 A80.2,80.2 0 0 0 417.11,308.77 Z M404.91,337.02 A81.7,81.7 0 0 1 404.52,337.53 L403.33,336.62 A80.2,80.2 0 0 0 403.71,336.12 Z M387.07,354.36 A81.7,81.7 0 0 1 386.55,354.73 L385.69,353.51 A80.2,80.2 0 0 0 386.20,353.14 Z M361.09,366.65 A81.7,81.7 0 0 1 360.47,366.81 L360.09,365.36 A80.2,80.2 0 0 0 360.70,365.20 Z M337.29,369.46 A81.7,81.7 0 0 1 336.65,369.44 L336.71,367.94 A80.2,80.2 0 0 0 337.34,367.97 Z M316.31,366.08 A81.7,81.7 0 0 1 315.70,365.90 L316.14,364.46 A80.2,80.2 0 0 0 316.74,364.64 Z M293.86,355.43 A81.7,81.7 0 0 1 293.33,355.06 L294.18,353.83 A80.2,80.2 0 0 0 294.70,354.19 Z M279.64,343.19 A81.7,81.7 0 0 1 279.21,342.71 L280.32,341.71 A80.2,80.2 0 0 0 280.74,342.17 Z M266.31,323.71 A81.7,81.7 0 0 1 266.03,323.13 L267.39,322.48 A80.2,80.2 0 0 0 267.66,323.05 Z M259.93,305.44 A81.7,81.7 0 0 1 259.79,304.81 L261.26,304.50 A80.2,80.2 0 0 0 261.39,305.11 Z M258.01,286.42 A81.7,81.7 0 0 1 258.03,285.78 L259.52,285.81 A80.2,80.2 0 0 0 259.51,286.44 Z M259.72,271.14 A81.7,81.7 0 0 1 259.85,270.51 L261.32,270.83 A80.2,80.2 0 0 0 261.19,271.44 Z M264.64,255.53 A81.7,81.7 0 0 1 264.90,254.94 L266.27,255.54 A80.2,80.2 0 0 0 266.02,256.12 Z M272.28,241.66 A81.7,81.7 0 0 1 272.64,241.13 L273.87,241.99 A80.2,80.2 0 0 0 273.51,242.51 Z M279.73,232.32 A81.7,81.7 0 0 1 280.16,231.85 L281.26,232.88 A80.2,80.2 0 0 0 280.83,233.34 Z M288.37,224.24 A81.7,81.7 0 0 1 288.87,223.84 L289.81,225.01 A80.2,80.2 0 0 0 289.31,225.40 Z M297.55,217.81 A81.7,81.7 0 0 1 298.10,217.48 L298.86,218.78 A80.2,80.2 0 0 0 298.32,219.10 Z M306.98,212.94 A81.7,81.7 0 0 1 307.57,212.68 L308.16,214.06 A80.2,80.2 0 0 0 307.58,214.31 Z M322.38,207.96 A81.7,81.7 0 0 1 323.00,207.82 L323.31,209.29 A80.2,80.2 0 0 0 322.69,209.42 Z " fill="#d2232a"/>
<path d="M338.84,205.90 A81.9,81.9 0 0 1 374.54,213.68 L373.73,215.40 A80.0,80.0 0 0 0 338.86,207.80 Z M377.11,214.94 A81.9,81.9 0 0 1 404.53,237.75 L403.02,238.91 A80.0,80.0 0 0 0 376.24,216.63 Z M406.23,240.04 A81.9,81.9 0 0 1 418.74,266.34 L416.90,266.84 A80.0,80.0 0 0 0 404.69,241.15 Z M419.44,269.11 A81.9,81.9 0 0 1 421.06,297.18 L419.17,296.96 A80.0,80.0 0 0 0 417.59,269.54 Z M420.68,300.01 A81.9,81.9 0 0 1 412.49,325.35 L410.80,324.47 A80.0,80.0 0 0 0 418.81,299.73 Z M411.13,327.86 A81.9,81.9 0 0 1 395.57,347.68 L394.28,346.29 A80.0,80.0 0 0 0 409.48,326.93 Z M393.45,349.59 A81.9,81.9 0 0 1 373.75,362.29 L372.96,360.56 A80.0,80.0 0 0 0 392.20,348.16 Z M371.13,363.43 A81.9,81.9 0 0 1 350.28,369.01 L350.04,367.13 A80.0,80.0 0 0 0 370.40,361.68 Z M347.44,369.33 A81.9,81.9 0 0 1 326.63,368.65 L326.94,366.78 A80.0,80.0 0 0 0 347.26,367.44 Z M323.82,368.15 A81.9,81.9 0 0 1 304.84,361.91 L305.65,360.19 A80.0,80.0 0 0 0 324.19,366.28 Z M302.27,360.65 A81.9,81.9 0 0 1 285.80,349.46 L287.05,348.03 A80.0,80.0 0 0 0 303.14,358.96 Z M283.68,347.55 A81.9,81.9 0 0 1 271.01,332.41 L272.61,331.37 A80.0,80.0 0 0 0 284.98,346.16 Z M269.50,329.98 A81.9,81.9 0 0 1 262.30,314.58 L264.10,313.96 A80.0,80.0 0 0 0 271.13,329.00 Z M261.41,311.86 A81.9,81.9 0 0 1 258.25,296.35 L260.14,296.15 A80.0,80.0 0 0 0 263.23,311.31 Z M258.00,293.50 A81.9,81.9 0 0 1 258.34,278.37 L260.23,278.59 A80.0,80.0 0 0 0 259.89,293.37 Z M258.72,275.54 A81.9,81.9 0 0 1 261.79,262.55 L263.60,263.14 A80.0,80.0 0 0 0 260.60,275.82 Z M262.72,259.85 A81.9,81.9 0 0 1 267.63,248.91 L269.30,249.81 A80.0,80.0 0 0 0 264.50,260.50 Z M269.03,246.41 A81.9,81.9 0 0 1 275.54,236.89 L277.03,238.07 A80.0,80.0 0 0 0 270.67,247.37 Z M277.36,234.69 A81.9,81.9 0 0 1 283.37,228.35 L284.67,229.73 A80.0,80.0 0 0 0 278.80,235.92 Z M285.48,226.42 A81.9,81.9 0 0 1 292.79,220.66 L293.88,222.22 A80.0,80.0 0 0 0 286.74,227.84 Z M295.16,219.07 A81.9,81.9 0 0 1 301.29,215.46 L302.18,217.14 A80.0,80.0 0 0 0 296.20,220.66 Z M303.84,214.17 A81.9,81.9 0 0 1 310.80,211.17 L311.47,212.95 A80.0,80.0 0 0 0 304.67,215.88 Z M313.49,210.21 A81.9,81.9 0 0 1 335.98,205.98 L336.07,207.88 A80.0,80.0 0 0 0 314.10,212.01 Z " fill="none" stroke="#1d1d1b" stroke-width="0.7"/>
<path d="M338.83,204.70 A83.1,83.1 0 0 1 375.05,212.60 M377.66,213.87 A83.1,83.1 0 0 1 405.48,237.02 M407.21,239.34 A83.1,83.1 0 0 1 419.90,266.02 M420.61,268.84 A83.1,83.1 0 0 1 422.25,297.32 M421.87,300.19 A83.1,83.1 0 0 1 413.55,325.90 M412.18,328.45 A83.1,83.1 0 0 1 396.39,348.56 M394.24,350.50 A83.1,83.1 0 0 1 374.25,363.38 M371.59,364.54 A83.1,83.1 0 0 1 350.44,370.20 M347.55,370.53 A83.1,83.1 0 0 1 326.44,369.84 M323.59,369.32 A83.1,83.1 0 0 1 304.33,362.99 M301.72,361.71 A83.1,83.1 0 0 1 285.01,350.37 M282.86,348.42 A83.1,83.1 0 0 1 270.01,333.06 M268.47,330.60 A83.1,83.1 0 0 1 261.17,314.97 M260.27,312.22 A83.1,83.1 0 0 1 257.05,296.47 M256.80,293.58 A83.1,83.1 0 0 1 257.15,278.23 M257.54,275.36 A83.1,83.1 0 0 1 260.65,262.18 M261.59,259.44 A83.1,83.1 0 0 1 266.57,248.34 M267.99,245.81 A83.1,83.1 0 0 1 274.60,236.15 M276.44,233.91 A83.1,83.1 0 0 1 282.54,227.48 M284.68,225.52 A83.1,83.1 0 0 1 292.11,219.68 M294.51,218.06 A83.1,83.1 0 0 1 300.73,214.40 M303.31,213.09 A83.1,83.1 0 0 1 310.38,210.04 M313.11,209.07 A83.1,83.1 0 0 1 335.93,204.79 " fill="none" stroke="#231f20" stroke-width="0.5"/>
<path d="M338.83,204.70L338.82,203.90M341.15,204.71L341.16,203.91M343.47,204.79L343.51,203.99M345.79,204.92L345.84,204.13M348.10,205.13L348.18,204.33M350.40,205.39L350.51,204.60M352.70,205.72L352.82,204.93M354.99,206.12L355.13,205.33M357.26,206.58L357.43,205.79M359.52,207.10L359.71,206.32M361.77,207.68L361.98,206.91M364.00,208.33L364.23,207.57M366.21,209.04L366.46,208.28M368.39,209.81L368.67,209.06M370.56,210.64L370.86,209.90M372.70,211.53L373.02,210.80M374.82,212.49L375.16,211.76M377.66,213.87L378.02,213.16M379.71,214.96L380.09,214.26M381.72,216.11L382.13,215.42M383.71,217.31L384.13,216.63M385.66,218.57L386.10,217.90M387.58,219.88L388.04,219.22M389.45,221.24L389.93,220.60M391.29,222.66L391.79,222.03M393.09,224.12L393.61,223.51M394.85,225.64L395.38,225.04M396.56,227.20L397.11,226.62M398.23,228.81L398.80,228.24M399.86,230.47L400.44,229.92M401.43,232.17L402.03,231.64M402.96,233.92L403.57,233.40M404.44,235.70L405.07,235.20M407.21,239.34L407.86,238.88M408.54,241.25L409.20,240.80M409.81,243.19L410.48,242.76M411.03,245.16L411.71,244.75M412.19,247.17L412.89,246.78M413.30,249.21L414.01,248.84M414.35,251.28L415.06,250.93M415.34,253.38L416.06,253.05M416.27,255.50L417.00,255.19M417.14,257.65L417.88,257.36M417.95,259.83L418.70,259.56M418.70,262.02L419.46,261.78M419.39,264.24L420.16,264.01M420.61,268.84L421.39,268.65M421.10,271.10L421.89,270.94M421.54,273.38L422.33,273.24M421.91,275.67L422.70,275.55M422.22,277.97L423.01,277.88M422.46,280.28L423.26,280.21M422.64,282.59L423.44,282.54M422.75,284.91L423.55,284.88M422.80,287.23L423.60,287.23M422.78,289.55L423.58,289.57M422.70,291.87L423.50,291.91M422.55,294.19L423.35,294.25M422.34,296.50L423.14,296.58M421.87,300.19L422.66,300.31M421.49,302.48L422.28,302.62M421.05,304.76L421.83,304.92M420.55,307.03L421.32,307.21M419.98,309.28L420.75,309.48M419.35,311.51L420.11,311.74M418.65,313.72L419.41,313.97M417.90,315.92L418.65,316.19M417.08,318.09L417.83,318.38M416.21,320.24L416.94,320.55M415.27,322.36L416.00,322.70M414.28,324.46L414.99,324.81M412.18,328.45L412.88,328.84M411.02,330.46L411.70,330.87M409.80,332.43L410.47,332.86M408.52,334.37L409.19,334.82M407.20,336.28L407.85,336.74M405.82,338.14L406.45,338.63M404.38,339.97L405.01,340.47M402.90,341.75L403.51,342.27M401.37,343.50L401.97,344.03M399.79,345.20L400.37,345.75M398.17,346.85L398.73,347.42M396.49,348.46L397.04,349.05M394.24,350.50L394.76,351.10M392.47,352.00L392.97,352.62M390.65,353.45L391.14,354.08M388.80,354.84L389.27,355.49M386.91,356.19L387.36,356.85M384.98,357.48L385.42,358.15M383.02,358.72L383.44,359.40M381.02,359.90L381.42,360.59M378.99,361.02L379.37,361.73M376.93,362.09L377.29,362.81M374.84,363.10L375.18,363.83M371.59,364.54L371.89,365.28M369.43,365.40L369.72,366.15M367.25,366.20L367.52,366.95M365.05,366.94L365.30,367.70M362.83,367.61L363.06,368.38M360.60,368.23L360.80,369.00M358.34,368.78L358.52,369.56M356.07,369.27L356.23,370.06M353.79,369.70L353.93,370.48M351.50,370.06L351.61,370.85M347.55,370.53L347.63,371.32M345.24,370.72L345.29,371.51M342.92,370.84L342.95,371.64M340.60,370.90L340.61,371.70M338.28,370.89L338.27,371.69M335.96,370.82L335.93,371.62M333.65,370.68L333.59,371.48M331.34,370.48L331.25,371.27M329.03,370.21L328.93,371.01M326.73,369.88L326.61,370.67M323.59,369.32L323.43,370.11M321.32,368.84L321.14,369.62M319.06,368.30L318.86,369.07M316.82,367.69L316.60,368.46M314.60,367.02L314.36,367.78M312.40,366.29L312.14,367.04M310.22,365.49L309.93,366.24M308.06,364.64L307.75,365.38M305.93,363.73L305.60,364.46M301.72,361.71L301.36,362.43M299.67,360.63L299.29,361.33M297.66,359.48L297.25,360.17M295.67,358.28L295.25,358.96M293.72,357.02L293.28,357.69M291.81,355.71L291.34,356.36M289.93,354.35L289.45,354.99M288.09,352.93L287.59,353.56M286.29,351.46L285.78,352.08M282.86,348.42L282.31,349.00M281.19,346.81L280.63,347.38M279.57,345.15L278.99,345.71M277.99,343.45L277.39,343.99M276.46,341.71L275.85,342.23M274.98,339.92L274.35,340.42M273.55,338.09L272.91,338.58M272.17,336.23L271.52,336.69M270.84,334.32L270.18,334.77M268.47,330.60L267.78,331.01M267.30,328.60L266.61,328.99M266.19,326.56L265.48,326.93M265.14,324.49L264.42,324.84M264.14,322.39L263.42,322.73M263.21,320.27L262.47,320.58M262.33,318.12L261.58,318.41M261.51,315.95L260.76,316.22M260.27,312.22L259.50,312.45M259.62,309.99L258.85,310.20M259.03,307.74L258.25,307.94M258.50,305.48L257.72,305.65M258.04,303.21L257.26,303.36M257.64,300.92L256.85,301.05M257.31,298.63L256.52,298.73M256.80,293.58L256.00,293.64M256.67,291.26L255.87,291.30M256.61,288.95L255.81,288.96M256.61,286.62L255.81,286.61M256.67,284.31L255.87,284.27M256.80,281.99L256.01,281.93M257.00,279.68L256.20,279.60M257.54,275.36L256.75,275.24M257.92,273.07L257.13,272.93M258.36,270.79L257.58,270.63M258.87,268.53L258.09,268.34M259.44,266.28L258.66,266.07M260.07,264.04L259.30,263.82M261.59,259.44L260.84,259.17M262.41,257.27L261.67,256.98M263.29,255.12L262.56,254.81M264.24,253.00L263.51,252.67M265.24,250.91L264.52,250.55M266.30,248.84L265.59,248.47M267.99,245.81L267.30,245.40M269.19,243.82L268.51,243.40M270.45,241.87L269.78,241.43M271.76,239.95L271.10,239.49M273.12,238.08L272.48,237.60M274.53,236.24L273.91,235.74M276.44,233.91L275.84,233.39M277.97,232.16L277.38,231.63M279.55,230.46L278.97,229.91M281.18,228.80L280.61,228.24M284.68,225.52L284.15,224.92M286.44,224.01L285.93,223.39M288.25,222.55L287.75,221.92M290.09,221.14L289.61,220.49M291.97,219.78L291.51,219.12M294.51,218.06L294.08,217.39M296.48,216.83L296.06,216.14M298.47,215.65L298.08,214.95M300.51,214.52L300.13,213.82M303.31,213.09L302.96,212.37M305.41,212.10L305.08,211.37M307.54,211.17L307.23,210.44M309.69,210.31L309.40,209.56M313.11,209.07L312.85,208.31M315.32,208.36L315.08,207.59M317.55,207.71L317.33,206.94M319.79,207.12L319.60,206.34M322.05,206.60L321.88,205.81M324.33,206.13L324.18,205.35M326.61,205.74L326.49,204.95M328.91,205.40L328.80,204.61M331.21,205.13L331.13,204.34M333.53,204.93L333.47,204.13M335.84,204.79L335.80,203.99" fill="none" stroke="#231f20" stroke-width="0.35"/>
<path d="M341.97,202.33 A85.5,85.5 0 0 1 345.25,202.48 M351.55,203.13 A85.5,85.5 0 0 1 354.79,203.64 M360.98,204.99 A85.5,85.5 0 0 1 364.14,205.87 M370.14,207.90 A85.5,85.5 0 0 1 373.18,209.13 M381.44,213.18 A85.5,85.5 0 0 1 384.27,214.84 M389.36,218.20 A85.5,85.5 0 0 1 392.00,220.16 M396.69,224.06 A85.5,85.5 0 0 1 399.09,226.29 M403.32,230.68 A85.5,85.5 0 0 1 405.47,233.17 M411.11,240.79 A85.5,85.5 0 0 1 412.87,243.56 M416.20,249.61 A85.5,85.5 0 0 1 417.61,252.57 M420.19,258.97 A85.5,85.5 0 0 1 421.24,262.08 M423.63,271.49 A85.5,85.5 0 0 1 424.19,274.72 M424.95,281.23 A85.5,85.5 0 0 1 425.14,284.51 M425.14,291.06 A85.5,85.5 0 0 1 424.95,294.33 M423.74,303.52 A85.5,85.5 0 0 1 423.08,306.74 M421.54,312.56 A85.5,85.5 0 0 1 420.53,315.68 M418.36,321.30 A85.5,85.5 0 0 1 417.02,324.30 M411.72,333.88 A85.5,85.5 0 0 1 409.90,336.61 M403.78,344.41 A85.5,85.5 0 0 1 401.56,346.82 M392.34,355.17 A85.5,85.5 0 0 1 389.72,357.14 M382.16,362.01 A85.5,85.5 0 0 1 379.28,363.59 M368.77,368.21 A85.5,85.5 0 0 1 365.66,369.26 M357.93,371.33 A85.5,85.5 0 0 1 354.71,371.97 M343.98,373.19 A85.5,85.5 0 0 1 340.70,373.29 M333.10,373.04 A85.5,85.5 0 0 1 329.83,372.73 M319.62,370.91 A85.5,85.5 0 0 1 316.44,370.08 M309.63,367.84 A85.5,85.5 0 0 1 306.58,366.62 M297.49,362.15 A85.5,85.5 0 0 1 294.67,360.48 M288.76,356.47 A85.5,85.5 0 0 1 286.17,354.47 M278.70,347.71 A85.5,85.5 0 0 1 276.44,345.32 M271.92,339.92 A85.5,85.5 0 0 1 269.97,337.28 M262.95,325.47 A85.5,85.5 0 0 1 261.56,322.50 M256.27,306.51 A85.5,85.5 0 0 1 255.61,303.29 M254.20,287.49 A85.5,85.5 0 0 1 254.28,284.20 M256.13,269.76 A85.5,85.5 0 0 1 256.88,266.56 M261.03,254.32 A85.5,85.5 0 0 1 262.37,251.32 M268.23,240.87 A85.5,85.5 0 0 1 270.09,238.16 M276.55,230.16 A85.5,85.5 0 0 1 278.81,227.78 M285.55,221.64 A85.5,85.5 0 0 1 288.13,219.61 M294.96,214.94 A85.5,85.5 0 0 1 297.79,213.28 M304.36,209.95 A85.5,85.5 0 0 1 307.37,208.65 M316.50,205.51 A85.5,85.5 0 0 1 319.67,204.68 M328.22,203.07 A85.5,85.5 0 0 1 331.48,202.70 " fill="none" stroke="#666" stroke-width="1.6"/>
<path d="M339.07,227.50 A60.3,60.3 0 0 1 365.35,233.23 M367.24,234.16 A60.3,60.3 0 0 1 387.43,250.95 M388.69,252.64 A60.3,60.3 0 0 1 397.89,272.00 M398.41,274.04 A60.3,60.3 0 0 1 399.60,294.71 M399.33,296.79 A60.3,60.3 0 0 1 393.29,315.44 M392.29,317.30 A60.3,60.3 0 0 1 380.84,331.89 M379.27,333.30 A60.3,60.3 0 0 1 364.77,342.64 M362.84,343.48 A60.3,60.3 0 0 1 347.49,347.59 M345.40,347.83 A60.3,60.3 0 0 1 330.08,347.33 M328.01,346.96 A60.3,60.3 0 0 1 314.03,342.36 M312.14,341.43 A60.3,60.3 0 0 1 300.02,333.20 M298.46,331.79 A60.3,60.3 0 0 1 289.13,320.64 M288.01,318.86 A60.3,60.3 0 0 1 282.72,307.52 M282.06,305.52 A60.3,60.3 0 0 1 279.73,294.09 M279.55,292.00 A60.3,60.3 0 0 1 279.80,280.86 M280.08,278.77 A60.3,60.3 0 0 1 282.34,269.21 M283.02,267.22 A60.3,60.3 0 0 1 286.63,259.16 M287.67,257.33 A60.3,60.3 0 0 1 292.46,250.32 M293.80,248.69 A60.3,60.3 0 0 1 298.22,244.03 M299.78,242.61 A60.3,60.3 0 0 1 305.16,238.37 M306.91,237.19 A60.3,60.3 0 0 1 311.42,234.54 M313.30,233.59 A60.3,60.3 0 0 1 318.42,231.38 M320.41,230.67 A60.3,60.3 0 0 1 336.96,227.56 " fill="none" stroke="#9c0f17" stroke-width="1.3"/>
<path d="M339.57,227.50L339.56,225.66M340.57,227.51L340.60,225.61M341.57,227.53L341.61,226.31M342.57,227.57L342.69,225.00M343.57,227.62L343.71,225.29M344.56,227.70L344.88,223.71M345.56,227.79L345.76,225.75M346.55,227.89L346.77,226.00M347.54,228.01L347.82,225.95M348.53,228.15L348.90,225.66M349.52,228.31L350.30,223.57M350.51,228.48L350.77,227.01M351.49,228.66L352.04,225.90M352.47,228.87L352.60,228.27M353.44,229.09L353.63,228.29M354.42,229.32L354.82,227.73M355.38,229.58L355.73,228.27M356.35,229.84L356.66,228.75M357.30,230.13L357.54,229.34M358.26,230.43L358.96,228.27M359.21,230.74L359.68,229.35M360.15,231.07L361.10,228.44M361.09,231.42L361.58,230.13M362.02,231.78L362.86,229.68M362.95,232.16L363.52,230.79M363.87,232.55L364.53,231.04M364.78,232.96L365.17,232.11M367.69,234.39L368.74,232.38M368.57,234.86L370.47,231.37M369.44,235.35L370.84,232.89M370.31,235.85L371.11,234.48M371.16,236.36L372.38,234.37M372.01,236.89L372.57,236.02M372.85,237.43L374.96,234.22M373.68,237.99L374.16,237.28M374.50,238.56L375.26,237.49M375.32,239.14L376.73,237.20M376.12,239.74L377.06,238.50M376.91,240.35L377.81,239.20M377.69,240.97L378.57,239.89M378.46,241.61L380.48,239.21M379.22,242.26L381.00,240.21M379.97,242.92L380.70,242.11M380.71,243.59L384.00,240.05M381.44,244.28L382.53,243.14M382.15,244.98L384.80,242.31M382.86,245.69L386.05,242.57M383.55,246.41L384.92,245.12M384.23,247.14L384.94,246.50M384.90,247.89L386.18,246.75M385.55,248.64L386.92,247.47M386.20,249.41L388.36,247.62M386.83,250.18L389.40,248.13M388.98,253.05L394.66,249.04M389.55,253.87L390.84,252.99M390.10,254.70L392.75,252.96M390.64,255.54L392.09,254.62M391.17,256.39L392.84,255.37M391.69,257.25L395.28,255.13M392.19,258.11L394.11,257.02M392.67,258.99L394.54,257.97M393.14,259.87L395.01,258.89M393.60,260.76L396.46,259.32M394.04,261.66L396.34,260.55M394.46,262.56L397.99,260.93M394.87,263.47L397.51,262.31M395.27,264.39L398.74,262.93M395.65,265.31L397.90,264.41M396.02,266.24L399.05,265.08M396.37,267.18L398.75,266.31M396.70,268.12L398.68,267.44M397.02,269.07L399.75,268.18M397.32,270.02L399.10,269.47M397.61,270.98L400.86,270.04M398.52,274.53L405.15,273.03M398.73,275.50L403.06,274.60M398.93,276.48L404.25,275.47M399.11,277.47L400.35,277.25M399.27,278.45L403.46,277.80M399.42,279.44L403.41,278.88M399.55,280.43L403.95,279.89M399.66,281.43L402.28,281.15M399.76,282.42L402.65,282.16M399.84,283.42L401.85,283.27M399.90,284.42L402.04,284.30M399.95,285.41L407.07,285.13M399.98,286.41L405.86,286.28M400.00,287.41L401.99,287.40M400.00,288.41L401.65,288.43M399.98,289.41L403.36,289.50M399.94,290.41L402.34,290.52M399.89,291.41L404.39,291.68M399.82,292.41L406.36,292.91M399.74,293.40L401.60,293.58M399.64,294.40L402.98,294.77M399.25,297.29L402.41,297.79M399.08,298.27L402.50,298.87M398.90,299.26L400.40,299.55M398.70,300.24L400.92,300.70M398.49,301.21L400.85,301.75M398.26,302.19L401.29,302.93M398.01,303.15L405.49,305.12M397.75,304.12L400.04,304.76M397.47,305.08L399.99,305.83M397.18,306.03L398.89,306.58M396.87,306.99L398.76,307.62M396.54,307.93L399.18,308.86M396.20,308.87L398.43,309.70M395.84,309.80L399.72,311.33M395.47,310.73L401.10,313.05M395.08,311.65L402.46,314.83M394.68,312.57L397.17,313.69M394.26,313.48L395.72,314.17M393.83,314.38L396.11,315.50M392.05,317.73L396.29,320.16M391.54,318.60L392.98,319.45M391.03,319.45L394.04,321.31M390.49,320.30L394.00,322.54M389.95,321.14L393.12,323.24M389.39,321.96L391.46,323.39M388.81,322.78L391.36,324.59M388.23,323.59L390.94,325.59M387.63,324.39L390.69,326.73M387.01,325.18L390.90,328.25M386.39,325.96L390.18,329.06M385.75,326.73L388.66,329.19M385.10,327.49L391.59,333.17M384.43,328.24L386.65,330.24M383.76,328.97L389.88,334.70M383.07,329.70L384.34,330.93M382.37,330.41L387.19,335.23M381.66,331.11L383.57,333.08M378.90,333.62L382.20,337.48M378.13,334.27L379.79,336.27M377.36,334.90L380.04,338.26M376.57,335.52L379.00,338.66M375.77,336.12L379.83,341.56M374.97,336.71L377.61,340.38M374.15,337.29L375.96,339.89M373.33,337.85L377.26,343.71M372.49,338.40L375.10,342.44M371.65,338.94L373.46,341.84M370.80,339.46L372.78,342.75M369.94,339.97L371.48,342.63M369.07,340.47L370.54,343.11M368.19,340.95L369.95,344.23M367.30,341.41L368.00,342.76M366.41,341.86L369.08,347.26M365.51,342.30L367.49,346.49M362.38,343.67L362.79,344.69M361.45,344.04L362.81,347.57M360.51,344.40L361.65,347.50M359.57,344.73L360.73,348.07M358.62,345.05L359.99,349.20M357.67,345.36L358.81,349.02M356.71,345.65L357.49,348.27M355.75,345.92L357.39,351.86M354.79,346.18L355.28,348.07M353.82,346.42L354.79,350.45M352.84,346.65L353.38,349.07M351.87,346.86L352.37,349.31M350.88,347.05L351.21,348.77M349.90,347.23L350.54,350.95M348.91,347.39L349.42,350.66M347.92,347.54L349.03,355.54M344.90,347.88L345.33,352.88M343.90,347.95L344.12,351.01M342.91,348.01L343.04,350.47M341.91,348.06L342.00,350.49M340.91,348.09L341.02,353.85M339.91,348.10L339.92,351.68M338.91,348.09L338.89,349.72M337.91,348.07L337.86,349.75M336.91,348.04L336.82,349.88M335.91,347.98L335.75,350.60M334.91,347.91L334.58,352.09M333.92,347.82L333.48,352.41M332.92,347.72L332.65,350.18M331.93,347.60L331.61,350.06M330.94,347.46L330.26,352.10M327.52,346.86L326.99,349.42M326.54,346.65L325.94,349.33M325.57,346.42L324.39,351.30M324.60,346.18L323.79,349.29M323.63,345.92L321.45,353.80M322.67,345.65L321.80,348.60M321.71,345.35L320.66,348.74M320.76,345.05L319.71,348.24M319.81,344.73L318.68,347.98M318.87,344.39L317.31,348.63M317.94,344.04L317.00,346.45M317.01,343.67L315.58,347.18M316.09,343.28L314.05,348.08M315.17,342.88L314.38,344.66M311.70,341.20L310.30,343.88M310.82,340.73L309.60,342.96M309.94,340.25L308.71,342.42M309.08,339.75L307.77,341.96M308.22,339.23L307.34,340.68M307.37,338.70L304.92,342.57M306.53,338.16L305.73,339.38M305.70,337.60L304.65,339.15M304.88,337.03L304.13,338.10M304.07,336.45L302.85,338.11M303.27,335.85L302.70,336.60M302.48,335.24L300.48,337.78M301.70,334.62L299.01,337.92M300.92,333.98L297.62,337.92M298.09,331.45L295.55,334.12M297.37,330.75L295.58,332.57M296.67,330.04L292.92,333.72M295.97,329.32L294.24,330.97M295.29,328.59L292.55,331.11M294.62,327.85L293.39,328.94M293.96,327.10L290.66,329.93M293.32,326.33L291.42,327.91M292.69,325.56L291.49,326.52M292.07,324.77L291.04,325.57M291.46,323.98L288.68,326.06M290.87,323.17L290.00,323.80M290.29,322.36L287.70,324.17M289.72,321.54L287.79,322.84M287.76,318.43L286.22,319.34M287.26,317.56L285.82,318.38M286.77,316.69L285.42,317.43M286.30,315.81L284.66,316.67M285.84,314.92L278.68,318.52M285.40,314.02L284.03,314.68M284.97,313.12L281.22,314.85M284.56,312.21L283.51,312.67M284.16,311.29L282.62,311.94M283.78,310.37L282.24,310.99M283.41,309.44L281.92,310.01M283.06,308.50L280.82,309.32M281.92,305.04L279.47,305.77M281.64,304.08L279.40,304.71M281.38,303.11L277.91,304.02M281.13,302.14L279.71,302.49M280.90,301.17L279.23,301.55M280.69,300.19L279.09,300.53M280.49,299.21L276.21,300.04M280.31,298.23L277.75,298.68M280.14,297.25L278.77,297.46M280.00,296.26L276.55,296.74M279.86,295.27L278.84,295.39M279.51,291.50L277.47,291.62M279.46,290.50L277.60,290.58M279.42,289.50L277.43,289.56M279.40,288.50L275.82,288.54M279.40,287.50L277.60,287.49M279.41,286.50L275.10,286.41M279.44,285.50L278.05,285.45M279.49,284.50L277.31,284.38M279.55,283.50L276.54,283.29M279.63,282.51L277.70,282.34M279.73,281.51L277.77,281.31M280.16,278.28L279.04,278.10M280.32,277.29L279.29,277.11M280.51,276.31L278.40,275.90M280.70,275.33L278.33,274.83M280.92,274.35L279.78,274.09M281.15,273.38L279.72,273.03M281.40,272.41L279.62,271.94M281.66,271.45L280.45,271.11M281.94,270.49L279.93,269.88M282.23,269.53L280.25,268.90M283.19,266.75L280.89,265.89M283.55,265.82L281.09,264.85M283.92,264.89L282.43,264.28M284.31,263.97L281.05,262.57M284.71,263.05L283.74,262.61M285.13,262.14L282.86,261.08M285.56,261.24L283.76,260.36M286.01,260.35L284.48,259.56M286.47,259.46L284.77,258.56M287.92,256.90L286.45,256.02M288.44,256.04L284.53,253.62M288.97,255.20L286.78,253.79M289.52,254.36L286.77,252.53M290.08,253.53L288.01,252.10M290.66,252.72L289.46,251.86M291.25,251.91L288.88,250.16M291.85,251.11L290.17,249.82M294.13,248.31L291.76,246.26M294.79,247.56L293.32,246.25M295.46,246.83L294.26,245.71M296.15,246.10L295.36,245.34M296.84,245.38L293.35,241.93M297.55,244.68L296.18,243.27M300.15,242.28L299.33,241.34M300.91,241.63L299.94,240.46M301.68,240.99L299.79,238.66M302.47,240.37L299.80,236.97M303.26,239.76L301.75,237.76M304.06,239.16L302.94,237.63M304.87,238.58L303.90,237.21M307.33,236.92L306.62,235.80M308.18,236.39L307.35,235.04M309.04,235.88L308.10,234.29M309.90,235.38L307.91,231.88M310.77,234.89L309.65,232.84M313.75,233.37L312.19,230.10M314.65,232.95L313.77,231.02M315.57,232.54L314.42,229.92M316.49,232.15L315.46,229.69M317.41,231.77L316.89,230.45M320.88,230.51L319.35,225.85M321.83,230.21L321.23,228.28M322.79,229.92L322.22,227.96M323.75,229.65L322.96,226.75M324.72,229.39L324.04,226.74M325.69,229.15L325.22,227.18M326.66,228.93L326.49,228.13M327.64,228.72L326.80,224.60M328.62,228.53L328.12,225.85M329.61,228.35L329.32,226.64M330.59,228.19L330.22,225.76M331.58,228.05L331.29,225.89M332.57,227.92L332.40,226.50M333.57,227.81L333.08,223.03M334.56,227.72L334.47,226.59M335.56,227.64L335.49,226.64M336.56,227.58L336.47,225.83" fill="none" stroke="#9c0f17" stroke-width="0.75"/>
<path d="M301.92,240.81L290.64,226.78M316.33,232.21L310.71,218.84M381.96,244.79L393.88,232.67M279.89,295.46L264.02,297.50M381.81,330.96L390.89,340.26" fill="none" stroke="#9c0f17" stroke-width="0.7"/>
<path d="M339.28,247.90 A39.9,39.9 0 0 1 356.67,251.69 M357.92,252.31 A39.9,39.9 0 0 1 371.28,263.42 M372.11,264.53 A39.9,39.9 0 0 1 378.21,277.34 M378.55,278.69 A39.9,39.9 0 0 1 379.34,292.37 M379.15,293.75 A39.9,39.9 0 0 1 375.16,306.09 M374.50,307.32 A39.9,39.9 0 0 1 366.92,316.97 M365.89,317.90 A39.9,39.9 0 0 1 356.29,324.09 M355.01,324.65 A39.9,39.9 0 0 1 344.85,327.37 M343.47,327.52 A39.9,39.9 0 0 1 333.33,327.19 M331.96,326.94 A39.9,39.9 0 0 1 322.72,323.90 M321.47,323.29 A39.9,39.9 0 0 1 313.44,317.84 M312.41,316.91 A39.9,39.9 0 0 1 306.24,309.53 M305.50,308.35 A39.9,39.9 0 0 1 301.99,300.85 M301.56,299.52 A39.9,39.9 0 0 1 300.02,291.96 M299.90,290.58 A39.9,39.9 0 0 1 300.07,283.21 M300.25,281.83 A39.9,39.9 0 0 1 301.74,275.50 M302.20,274.18 A39.9,39.9 0 0 1 304.59,268.85 M305.27,267.64 A39.9,39.9 0 0 1 308.44,263.00 M309.33,261.92 A39.9,39.9 0 0 1 312.26,258.84 M313.28,257.90 A39.9,39.9 0 0 1 316.85,255.09 M318.00,254.31 A39.9,39.9 0 0 1 320.99,252.56 M322.23,251.93 A39.9,39.9 0 0 1 325.62,250.47 M326.93,250.00 A39.9,39.9 0 0 1 337.89,247.94 " fill="none" stroke="#587d8d" stroke-width="1.1"/>
<path d="M339.67,247.90L339.66,244.69M340.43,247.91L340.49,244.94M341.20,247.93L341.38,243.05M341.96,247.96L342.18,244.09M342.73,248.01L342.93,245.32M343.49,248.08L344.10,241.72M344.25,248.16L344.48,246.20M345.01,248.26L345.31,246.02M345.77,248.36L346.36,244.56M346.53,248.49L347.37,243.65M347.28,248.63L347.99,244.95M348.03,248.78L348.85,244.92M348.78,248.95L349.93,244.02M349.52,249.13L350.09,246.87M350.26,249.32L352.99,239.38M351.00,249.53L352.39,244.81M351.73,249.76L352.39,247.68M352.46,250.00L353.73,246.22M353.18,250.25L354.12,247.64M353.90,250.51L354.76,248.27M354.61,250.79L355.23,249.27M355.32,251.09L356.20,249.02M356.02,251.39L356.93,249.38M358.26,252.48L360.62,247.99M358.94,252.84L360.94,249.22M359.61,253.22L360.48,251.71M360.27,253.61L363.40,248.40M360.92,254.01L362.56,251.39M361.56,254.42L363.89,250.87M362.20,254.85L364.67,251.23M362.83,255.29L364.59,252.81M363.45,255.74L364.72,254.02M364.06,256.20L366.87,252.55M364.66,256.67L367.68,252.91M365.26,257.16L367.33,254.67M365.84,257.65L367.44,255.81M366.41,258.16L369.65,254.57M366.98,258.68L368.29,257.28M367.53,259.21L369.76,256.92M368.07,259.75L369.31,258.53M368.61,260.30L370.80,258.21M369.13,260.86L371.36,258.82M369.64,261.43L371.13,260.12M370.14,262.01L372.61,259.92M370.63,262.60L371.94,261.53M371.11,263.20L373.03,261.70M372.34,264.85L374.41,263.39M372.77,265.48L374.64,264.21M373.19,266.12L375.10,264.88M373.60,266.76L375.69,265.47M374.00,267.42L376.25,266.08M374.39,268.08L376.49,266.88M374.76,268.75L376.36,267.88M375.12,269.43L378.33,267.76M375.46,270.11L378.72,268.50M375.80,270.80L378.48,269.54M376.12,271.50L379.21,270.11M376.42,272.20L378.47,271.33M376.72,272.91L378.23,272.30M376.99,273.62L379.75,272.57M377.26,274.34L381.10,272.96M377.51,275.06L382.43,273.40M377.75,275.79L381.35,274.65M377.97,276.52L379.81,275.98M378.63,279.07L380.82,278.58M378.79,279.82L380.64,279.44M378.94,280.57L389.90,278.55M379.07,281.32L382.85,280.70M379.19,282.08L381.35,281.77M379.29,282.84L382.86,282.39M379.38,283.60L382.42,283.28M379.45,284.36L381.36,284.20M379.51,285.13L381.65,284.98M379.55,285.89L380.46,285.85M379.58,286.66L382.32,286.58M379.60,287.42L384.27,287.38M379.60,288.19L382.76,288.22M379.58,288.95L381.83,289.02M379.55,289.72L382.82,289.88M379.51,290.48L381.99,290.65M379.45,291.25L381.81,291.45M379.38,292.01L381.46,292.23M379.09,294.13L381.60,294.53M378.97,294.88L381.21,295.29M378.82,295.64L380.87,296.05M378.67,296.39L380.85,296.87M378.49,297.13L384.88,298.67M378.31,297.88L379.98,298.31M378.11,298.62L384.11,300.31M377.89,299.35L379.17,299.74M377.66,300.08L380.10,300.87M377.42,300.81L379.99,301.69M377.16,301.53L379.11,302.24M376.89,302.25L381.59,304.07M376.61,302.96L378.34,303.67M376.31,303.66L380.23,305.36M376.00,304.36L378.59,305.55M375.67,305.06L377.72,306.04M375.34,305.74L377.67,306.92M374.31,307.65L376.36,308.82M373.92,308.31L375.84,309.46M373.52,308.97L375.29,310.07M373.11,309.61L375.00,310.84M372.69,310.25L374.15,311.24M372.25,310.88L373.65,311.87M371.80,311.50L374.87,313.76M371.34,312.11L374.24,314.34M370.87,312.71L372.31,313.86M370.38,313.31L374.08,316.38M369.89,313.89L371.32,315.13M369.38,314.47L370.74,315.69M368.86,315.03L370.93,316.96M368.34,315.58L370.97,318.14M367.80,316.13L370.70,319.05M367.25,316.66L370.35,319.92M365.60,318.15L368.36,321.40M365.01,318.65L366.57,320.55M364.41,319.13L367.18,322.64M363.81,319.59L368.13,325.30M363.19,320.05L365.02,322.56M362.57,320.50L364.66,323.49M361.94,320.93L364.17,324.26M361.30,321.35L363.14,324.22M360.65,321.76L364.01,327.22M359.99,322.15L360.75,323.44M359.33,322.54L360.74,325.03M358.66,322.91L360.20,325.77M357.98,323.27L360.82,328.78M357.30,323.61L359.43,327.96M356.61,323.94L358.03,326.99M354.66,324.79L355.50,326.87M353.94,325.07L355.67,329.60M353.22,325.34L355.88,332.72M352.50,325.59L353.41,328.28M351.77,325.83L352.87,329.28M351.04,326.05L352.02,329.34M350.31,326.26L350.93,328.52M349.56,326.46L350.13,328.67M348.82,326.64L350.67,334.54M348.07,326.81L348.44,328.50M347.32,326.97L348.08,330.85M346.57,327.10L347.15,330.44M345.81,327.23L346.40,331.04M343.09,327.56L343.18,328.60M342.33,327.61L342.68,333.01M341.56,327.66L341.68,330.30M340.80,327.68L340.85,329.75M340.03,327.70L340.10,336.24M339.26,327.70L339.23,330.38M338.50,327.68L338.44,329.64M337.73,327.65L337.38,334.72M336.97,327.61L336.75,330.77M336.20,327.55L335.77,332.46M335.44,327.47L335.08,330.82M334.68,327.38L334.38,329.73M333.92,327.28L333.34,331.25M331.59,326.87L330.65,331.37M330.84,326.70L330.16,329.70M330.09,326.53L328.14,334.43M329.35,326.33L328.87,328.12M328.61,326.13L327.94,328.45M327.88,325.91L327.42,327.40M327.15,325.68L325.66,330.19M326.43,325.43L323.81,332.84M325.71,325.17L324.49,328.41M324.99,324.89L323.83,327.82M324.28,324.60L323.43,326.65M323.58,324.30L321.67,328.62M321.13,323.11L320.09,325.08M320.45,322.75L316.78,329.41M319.78,322.37L318.69,324.28M319.12,321.99L316.85,325.77M318.47,321.58L316.42,324.84M317.83,321.17L316.69,322.90M317.19,320.74L314.13,325.23M316.56,320.31L315.31,322.06M315.94,319.86L315.00,321.13M315.33,319.39L313.18,322.18M314.73,318.92L314.28,319.48M314.14,318.43L313.05,319.73M312.13,316.64L311.22,317.59M311.58,316.11L310.00,317.70M311.04,315.56L308.57,317.96M310.52,315.01L309.19,316.24M310.00,314.44L304.81,319.10M309.49,313.87L307.02,316.00M309.00,313.28L305.63,316.08M308.51,312.69L307.16,313.77M308.04,312.09L306.98,312.90M307.58,311.47L305.64,312.91M307.13,310.85L305.77,311.82M306.70,310.22L303.75,312.23M305.30,308.02L302.39,309.73M304.92,307.36L302.45,308.75M304.55,306.69L301.30,308.43M304.20,306.01L302.47,306.89M303.85,305.32L301.58,306.43M303.52,304.63L301.19,305.72M303.21,303.93L300.80,305.00M302.90,303.23L297.93,305.32M302.62,302.52L301.03,303.15M302.34,301.81L299.39,302.91M302.08,301.09L297.34,302.76M301.45,299.16L299.41,299.76M301.24,298.42L299.68,298.85M301.04,297.68L298.62,298.30M300.86,296.94L299.55,297.24M300.69,296.19L297.02,296.98M300.54,295.44L299.07,295.72M300.40,294.69L298.06,295.09M300.27,293.93L297.82,294.31M300.16,293.17L298.89,293.34M300.07,292.41L297.84,292.67M299.87,290.19L292.61,290.63M299.83,289.43L296.34,289.57M299.81,288.66L297.24,288.72M299.80,287.90L298.30,287.90M299.81,287.13L298.56,287.11M299.83,286.37L295.51,286.21M299.86,285.60L296.40,285.41M299.91,284.84L297.13,284.63M299.97,284.07L298.42,283.93M300.31,281.45L296.16,280.78M300.44,280.69L299.29,280.48M300.58,279.94L297.29,279.28M300.74,279.19L299.34,278.88M300.91,278.44L298.17,277.78M301.10,277.70L299.42,277.26M301.30,276.96L293.37,274.72M301.52,276.23L299.94,275.75M302.33,273.82L299.30,272.69M302.60,273.11L298.53,271.50M302.89,272.40L299.04,270.79M303.19,271.70L301.14,270.79M303.51,271.00L300.85,269.76M303.84,270.31L302.62,269.71M304.18,269.62L299.70,267.33M305.46,267.31L302.27,265.40M305.86,266.65L304.64,265.89M306.28,266.01L302.97,263.85M306.70,265.37L303.60,263.26M307.14,264.74L304.71,263.02M307.59,264.12L305.76,262.77M308.05,263.51L305.60,261.63M309.58,261.63L305.18,257.81M310.09,261.06L309.15,260.22M310.60,260.50L309.28,259.25M311.13,259.94L308.95,257.82M311.67,259.40L310.85,258.56M313.57,257.64L310.00,253.52M314.16,257.15L313.66,256.55M314.75,256.66L313.58,255.20M315.35,256.19L313.15,253.33M315.96,255.73L314.25,253.41M316.58,255.28L314.60,252.50M318.33,254.11L316.68,251.51M318.98,253.70L316.93,250.34M319.63,253.31L317.54,249.72M320.30,252.93L319.70,251.86M322.57,251.76L321.56,249.62M323.27,251.44L321.96,248.54M323.97,251.13L322.52,247.75M324.68,250.84L323.60,248.19M325.39,250.55L324.39,247.94M327.30,249.88L326.88,248.59M328.03,249.65L327.24,247.06M328.76,249.43L327.79,246.03M329.50,249.23L328.65,246.00M330.24,249.04L329.31,245.21M330.99,248.86L330.53,246.83M331.74,248.70L330.68,243.50M332.49,248.56L332.02,246.01M333.24,248.43L332.79,245.64M334.00,248.31L333.48,244.73M334.76,248.21L334.26,244.18M335.52,248.12L335.22,245.22M336.28,248.05L336.12,246.17M337.05,247.99L336.79,244.18" fill="none" stroke="#587d8d" stroke-width="0.6"/>
<path d="M300.10,292.66L283.22,294.73M340.40,247.91L340.54,239.91M340.40,327.69L340.57,337.69" fill="none" stroke="#587d8d" stroke-width="0.7"/>
<path d="M339.48,267.00 A20.8,20.8 0 0 1 348.55,268.98 M349.20,269.30 A20.8,20.8 0 0 1 356.16,275.09 M356.60,275.67 A20.8,20.8 0 0 1 359.77,282.35 M359.95,283.05 A20.8,20.8 0 0 1 360.36,290.18 M360.27,290.90 A20.8,20.8 0 0 1 358.19,297.34 M357.84,297.97 A20.8,20.8 0 0 1 353.89,303.01 M353.35,303.49 A20.8,20.8 0 0 1 348.35,306.72 M347.68,307.01 A20.8,20.8 0 0 1 342.39,308.43 M341.67,308.51 A20.8,20.8 0 0 1 336.38,308.33 M335.67,308.21 A20.8,20.8 0 0 1 330.85,306.62 M330.19,306.30 A20.8,20.8 0 0 1 326.01,303.46 M325.47,302.97 A20.8,20.8 0 0 1 322.26,299.13 M321.87,298.51 A20.8,20.8 0 0 1 320.04,294.60 M319.82,293.91 A20.8,20.8 0 0 1 319.01,289.97 M318.95,289.25 A20.8,20.8 0 0 1 319.04,285.41 M319.13,284.69 A20.8,20.8 0 0 1 319.91,281.39 M320.15,280.70 A20.8,20.8 0 0 1 321.40,277.92 M321.75,277.29 A20.8,20.8 0 0 1 323.41,274.87 M323.87,274.31 A20.8,20.8 0 0 1 325.39,272.70 M325.93,272.21 A20.8,20.8 0 0 1 327.79,270.75 M328.39,270.34 A20.8,20.8 0 0 1 329.95,269.43 M330.59,269.10 A20.8,20.8 0 0 1 332.36,268.34 M333.04,268.09 A20.8,20.8 0 0 1 338.76,267.02 " fill="none" stroke="#c8b45a" stroke-width="1.3"/>
<path d="M339.71,267.00L339.71,265.56M340.16,267.01L340.24,263.41M340.62,267.02L340.70,265.22M341.07,267.05L341.16,265.66M341.52,267.08L341.69,265.18M341.97,267.12L342.27,264.41M342.42,267.18L343.21,261.26M342.87,267.24L343.38,263.93M343.32,267.32L343.73,265.00M343.77,267.40L344.20,265.21M344.21,267.50L344.66,265.49M344.65,267.60L345.45,264.36M345.09,267.71L345.35,266.75M345.53,267.83L346.01,266.18M345.96,267.97L346.46,266.40M346.39,268.11L347.07,266.11M346.82,268.26L347.43,266.60M347.25,268.42L347.99,266.52M347.67,268.59L349.21,264.88M348.09,268.77L349.95,264.53M349.40,269.40L350.02,268.24M349.80,269.62L351.21,267.08M350.20,269.84L350.96,268.52M350.58,270.08L351.97,267.82M350.97,270.32L352.30,268.25M351.35,270.57L352.87,268.31M351.72,270.82L352.25,270.08M352.09,271.09L353.06,269.78M352.45,271.37L353.82,269.60M352.80,271.65L353.99,270.19M353.15,271.94L354.01,270.93M353.50,272.23L354.94,270.61M353.83,272.54L355.15,271.12M354.16,272.85L355.24,271.74M354.49,273.17L355.94,271.73M354.80,273.50L356.27,272.10M355.11,273.83L355.93,273.08M355.41,274.17L356.37,273.33M355.70,274.51L356.87,273.55M355.99,274.87L357.38,273.76M356.73,275.86L358.86,274.37M356.99,276.23L358.76,275.05M357.23,276.61L358.82,275.60M357.47,277.00L358.72,276.24M357.71,277.39L359.13,276.56M357.93,277.78L359.74,276.79M358.14,278.18L358.64,277.92M358.35,278.59L359.41,278.06M358.54,278.99L359.53,278.53M358.73,279.41L361.77,278.07M358.91,279.83L361.15,278.90M359.08,280.25L361.24,279.40M359.24,280.67L360.27,280.29M359.39,281.10L361.36,280.43M359.53,281.53L361.14,281.02M359.66,281.96L362.57,281.11M360.00,283.27L364.69,282.23M360.10,283.72L362.56,283.23M360.18,284.16L361.04,284.01M360.25,284.61L361.75,284.38M360.32,285.06L363.48,284.64M360.37,285.51L363.31,285.19M360.42,285.96L361.88,285.83M360.45,286.42L361.82,286.32M360.48,286.87L361.62,286.82M360.49,287.32L363.20,287.26M360.50,287.78L362.71,287.77M360.50,288.23L362.49,288.27M360.48,288.68L361.32,288.72M360.46,289.14L361.38,289.20M360.42,289.59L363.18,289.83M360.38,290.04L362.38,290.26M360.23,291.13L362.15,291.44M360.15,291.57L362.17,291.94M360.07,292.02L362.72,292.57M359.97,292.46L360.98,292.70M359.86,292.90L364.19,294.00M359.75,293.34L362.39,294.07M359.62,293.78L361.70,294.40M359.49,294.21L361.75,294.94M359.34,294.64L362.36,295.69M359.19,295.07L361.06,295.77M359.03,295.49L362.42,296.84M358.85,295.91L360.11,296.44M358.67,296.33L360.96,297.36M358.48,296.74L360.24,297.57M358.28,297.15L359.95,297.99M357.73,298.17L359.87,299.40M357.50,298.56L358.64,299.25M357.26,298.95L359.97,300.67M357.01,299.33L357.98,299.97M356.76,299.70L358.68,301.05M356.49,300.07L358.98,301.89M356.22,300.44L358.94,302.52M355.94,300.79L358.10,302.52M355.65,301.15L357.52,302.70M355.36,301.49L357.32,303.20M355.06,301.83L356.40,303.05M354.75,302.16L355.72,303.09M354.43,302.48L356.62,304.67M354.11,302.80L354.67,303.39M353.18,303.64L353.66,304.21M352.83,303.93L353.90,305.24M352.48,304.21L353.83,305.96M352.11,304.49L352.99,305.67M351.75,304.76L352.83,306.28M351.37,305.01L352.26,306.33M351.00,305.27L351.60,306.20M350.61,305.51L351.91,307.62M350.22,305.74L351.38,307.71M349.83,305.97L351.56,309.07M349.43,306.18L350.35,307.93M349.03,306.39L350.90,310.12M348.62,306.59L349.82,309.13M347.47,307.09L347.99,308.38M347.05,307.26L348.38,310.79M346.62,307.41L347.61,310.20M346.19,307.56L347.45,311.37M345.76,307.70L346.91,311.48M345.32,307.83L345.72,309.23M344.89,307.94L345.38,309.86M344.45,308.05L344.74,309.30M344.00,308.15L344.57,310.85M343.56,308.24L343.89,309.98M343.11,308.32L343.34,309.67M342.66,308.39L342.97,310.54M341.44,308.53L341.66,311.16M340.99,308.56L341.13,310.87M340.53,308.58L340.62,310.84M340.08,308.60L340.12,310.64M339.63,308.60L339.61,312.38M339.17,308.59L339.14,309.79M338.72,308.58L338.56,311.99M338.27,308.55L338.08,311.29M337.81,308.51L337.63,310.48M337.36,308.47L336.45,316.51M336.91,308.41L336.62,310.54M335.44,308.16L335.04,310.10M335.00,308.06L334.56,309.96M334.56,307.96L334.32,308.91M334.12,307.84L333.56,309.87M333.69,307.71L332.87,310.41M333.25,307.58L332.96,308.48M332.82,307.43L332.33,308.84M332.40,307.28L331.63,309.31M331.97,307.11L331.18,309.08M331.55,306.94L330.76,308.80M331.14,306.76L330.52,308.13M329.99,306.20L328.83,308.39M329.59,305.98L329.07,306.92M329.20,305.76L328.67,306.66M328.81,305.52L328.04,306.78M328.43,305.28L324.89,310.76M328.05,305.03L326.17,307.81M327.67,304.77L326.87,305.91M327.31,304.51L326.34,305.81M326.95,304.23L325.78,305.74M326.59,303.95L325.81,304.91M326.24,303.66L323.14,307.32M325.31,302.82L323.15,305.07M324.98,302.50L323.05,304.43M324.67,302.18L322.20,304.54M324.36,301.84L323.85,302.31M324.05,301.51L320.44,304.67M323.76,301.16L322.13,302.53M323.47,300.81L321.56,302.34M323.19,300.45L321.73,301.58M322.92,300.09L321.14,301.39M322.66,299.72L321.12,300.79M322.40,299.35L321.69,299.82M321.76,298.32L320.95,298.79M321.53,297.92L320.62,298.43M321.31,297.53L318.86,298.83M321.11,297.12L316.96,299.20M320.91,296.71L319.07,297.58M320.72,296.30L319.41,296.89M320.54,295.89L318.22,296.86M320.36,295.47L318.01,296.40M320.20,295.04L317.05,296.21M319.75,293.69L317.74,294.29M319.63,293.26L315.11,294.49M319.51,292.82L318.13,293.16M319.41,292.38L318.63,292.55M319.31,291.93L318.12,292.18M319.23,291.49L317.35,291.83M319.15,291.04L317.50,291.30M319.09,290.59L317.90,290.75M319.03,290.14L316.05,290.48M318.94,289.02L316.39,289.17M318.91,288.57L316.69,288.65M318.90,288.11L316.48,288.15M318.90,287.66L317.19,287.65M318.91,287.21L317.72,287.17M318.93,286.75L317.06,286.66M318.95,286.30L317.53,286.20M318.99,285.85L315.46,285.51M319.17,284.46L318.38,284.33M319.25,284.01L317.87,283.76M319.33,283.57L317.96,283.28M319.43,283.13L316.39,282.42M319.54,282.68L317.46,282.16M319.66,282.25L317.51,281.65M319.78,281.81L317.99,281.27M320.23,280.49L318.88,279.98M320.39,280.07L318.68,279.38M320.56,279.65L317.42,278.30M320.75,279.23L319.03,278.45M320.94,278.82L318.86,277.82M321.14,278.41L319.46,277.56M321.87,277.09L320.02,275.99M322.10,276.71L320.48,275.68M322.35,276.33L320.80,275.30M322.61,275.95L319.44,273.76M322.87,275.58L321.19,274.36M323.14,275.22L321.85,274.24M324.02,274.14L322.44,272.77M324.32,273.80L323.22,272.80M324.63,273.47L322.70,271.64M324.94,273.14L322.45,270.66M325.27,272.82L324.55,272.08M326.10,272.06L324.35,270.04M326.45,271.77L325.32,270.41M326.80,271.48L326.30,270.86M327.16,271.21L325.87,269.51M327.52,270.94L325.22,267.74M328.58,270.22L327.95,269.23M328.97,269.98L328.00,268.38M329.36,269.75L328.83,268.83M329.75,269.53L328.77,267.72M330.80,269.00L329.83,266.96M331.21,268.81L330.09,266.31M331.63,268.63L331.08,267.33M332.05,268.46L331.32,266.62M333.26,268.02L332.64,266.11M333.69,267.89L333.04,265.71M334.13,267.76L333.27,264.66M334.57,267.64L333.71,264.27M335.01,267.54L334.60,265.76M335.45,267.44L335.02,265.37M335.90,267.35L335.49,265.16M336.34,267.27L335.80,263.94M336.79,267.20L336.56,265.57M337.24,267.15L336.99,264.99M337.69,267.10L337.41,264.22M338.15,267.06L337.95,264.49M338.60,267.03L338.43,263.77" fill="none" stroke="#c8b45a" stroke-width="0.6"/>
<path d="M351.45,270.64L361.62,255.79M359.97,283.12L375.07,279.63M323.09,275.28L315.10,269.26M333.27,307.58L330.18,317.09M350.54,305.55L355.75,314.09" fill="none" stroke="#c8b45a" stroke-width="0.7"/>
<path id="arc712" d="M244.77,251.71 A150,150 0 0 1 437.61,251.71" fill="none"/>
<text font-size="7.6" font-weight="bold" fill="#9c0f17"><textPath href="#arc712" startOffset="50%" text-anchor="middle">ratio</textPath></text>
<path id="arc504" d="M270.05,263.15 A110,110 0 0 1 411.46,263.15" fill="none"/>
<text font-size="7.4" font-weight="bold" fill="#5f7f8b"><textPath href="#arc504" startOffset="50%" text-anchor="middle">circRNAs</textPath></text>
<path id="arc296" d="M288.59,276.92 A80,80 0 0 1 391.43,276.92" fill="none"/>
<text font-size="7.0" font-weight="bold" fill="#c3b062"><textPath href="#arc296" startOffset="50%" text-anchor="middle">mRNAs</textPath></text>
</svg></body></html>
